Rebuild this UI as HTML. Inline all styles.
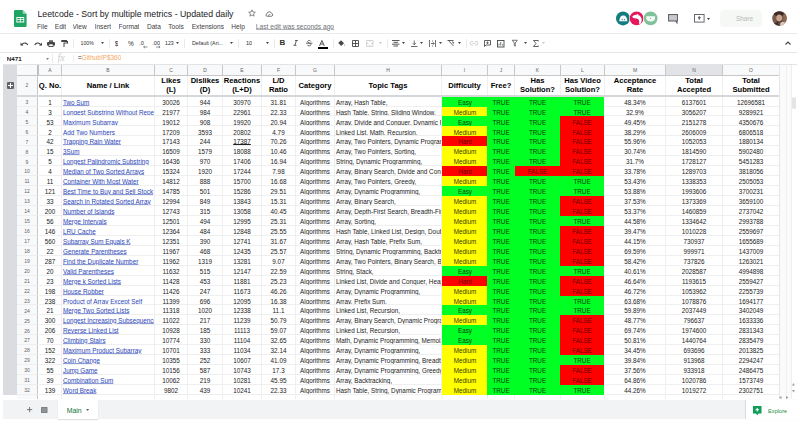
<!DOCTYPE html>
<html><head><meta charset="utf-8"><style>
html,body{margin:0;padding:0}
body{width:800px;height:424px;overflow:hidden;position:relative;background:#fff;font-family:"Liberation Sans",sans-serif}
.a{position:absolute;box-sizing:content-box;overflow:hidden;white-space:nowrap}
svg.a{overflow:visible}
.ch{font-size:5px;color:#5f6368;text-align:center}
.rh{font-size:5px;color:#5f6368;text-align:center}
.hd{font-size:7.6px;font-weight:bold;color:#000;text-align:center;display:flex;align-items:center;justify-content:center}
.c{font-size:6.33px;color:#222}
.lk{color:#2b45b8}
.lk u{text-decoration-color:rgba(43,69,184,.55)}
u{text-underline-offset:0.2px}
</style></head><body>
<svg class="a" style="left:14px;top:10px" width="13" height="17" viewBox="0 0 13 17">
<path d="M1.2 0 H8.6 L12.6 4 V15.8 Q12.6 17 11.4 17 H1.2 Q0 17 0 15.8 V1.2 Q0 0 1.2 0Z" fill="#20a464"/>
<path d="M8.6 0 L12.6 4 H9.6 Q8.6 4 8.6 3Z" fill="#8fd3b0"/>
<path d="M2.4 7 H10.2 V12.4 H2.4Z M3.3 7.9 V9.3 H5.9 V7.9Z M6.7 7.9 V9.3 H9.3 V7.9Z M3.3 10.1 V11.5 H5.9 V10.1Z M6.7 10.1 V11.5 H9.3 V10.1Z" fill="#fff" fill-rule="evenodd"/>
</svg>
<div class="a" style="left:37.5px;top:8.5px;font-size:8.75px;line-height:11px;color:#202124">Leetcode - Sort by multiple metrics - Updated daily</div>
<svg class="a" style="left:247.8px;top:9.3px" width="8" height="8" viewBox="0 0 24 24"><path d="M12 2.5l2.9 6.6 7.1.6-5.4 4.7 1.6 7-6.2-3.7-6.2 3.7 1.6-7L2 9.7l7.1-.6z" fill="none" stroke="#5f6368" stroke-width="2.2"/></svg>
<svg class="a" style="left:264.8px;top:10.5px" width="8.2" height="5.8" viewBox="0 0 16 11.3"><path d="M4 10.3H12.3A2.9 2.9 0 0 0 12.9 4.6 4.9 4.9 0 0 0 3.6 5.3 2.6 2.6 0 0 0 4 10.3Z" fill="none" stroke="#5f6368" stroke-width="1.7"/><path d="M5.6 7.2 7.3 8.8 10.4 5.7" fill="none" stroke="#5f6368" stroke-width="1.5"/></svg>
<div class="a" style="left:37px;top:22.7px;font-size:6.6px;line-height:8px;color:#3c4043">File</div>
<div class="a" style="left:54.75px;top:22.7px;font-size:6.6px;line-height:8px;color:#3c4043">Edit</div>
<div class="a" style="left:72.6px;top:22.7px;font-size:6.6px;line-height:8px;color:#3c4043">View</div>
<div class="a" style="left:94.6px;top:22.7px;font-size:6.6px;line-height:8px;color:#3c4043">Insert</div>
<div class="a" style="left:118.5px;top:22.7px;font-size:6.6px;line-height:8px;color:#3c4043">Format</div>
<div class="a" style="left:146.9px;top:22.7px;font-size:6.6px;line-height:8px;color:#3c4043">Data</div>
<div class="a" style="left:168.3px;top:22.7px;font-size:6.6px;line-height:8px;color:#3c4043">Tools</div>
<div class="a" style="left:191.7px;top:22.7px;font-size:6.6px;line-height:8px;color:#3c4043">Extensions</div>
<div class="a" style="left:231.3px;top:22.7px;font-size:6.6px;line-height:8px;color:#3c4043">Help</div>
<div class="a" style="left:255.8px;top:22.7px;font-size:6.65px;line-height:8px;color:#6d7175;text-decoration:underline;text-decoration-color:#b0b3b6;text-underline-offset:0.3px">Last edit was seconds ago</div>
<svg class="a" style="left:614px;top:10px" width="46" height="17" viewBox="0 0 46 17">
<circle cx="9" cy="8.4" r="7" fill="#147c80"/>
<path d="M5.3 11.3 Q5.5 5.6 9.3 5.6 Q13 5.6 13.4 11.3Z" fill="#f2fbf9"/>
<circle cx="8.2" cy="9.6" r="0.55" fill="#355"/><circle cx="10.6" cy="9.6" r="0.55" fill="#355"/>
<circle cx="22.6" cy="8.4" r="7.4" fill="#fff"/>
<circle cx="22.6" cy="8.4" r="6.9" fill="#e6165c"/>
<path d="M18.2 6.7 Q19.2 4.8 22.4 4.7 L23.8 3.8 L24.3 5 Q27.4 6.1 27.7 9.4 Q27.9 11.3 26.9 12.5 L28.3 13.9 L25.9 13.6 L24.7 14.7 L25.2 12.4 Q25.6 10.2 24 9.1 Q22.3 8.1 20.1 8.2 Q18.7 8.1 18.2 6.7Z" fill="#fff"/>
<circle cx="36.6" cy="8.4" r="7.4" fill="#fff"/>
<circle cx="36.6" cy="8.4" r="6.9" fill="#7fc29a"/>
<path d="M32.3 6.2 H41 V8.2 Q41 11.2 36.7 11.4 Q32.3 11.2 32.3 8.2Z" fill="#f4fbf6"/>
<circle cx="36.6" cy="8.5" r="0.55" fill="#5a8"/>
</svg>
<svg class="a" style="left:668px;top:14px" width="10" height="9" viewBox="0 0 20 18"><rect x="3" y="3" width="14" height="9" fill="#c9c6cc"/><path d="M1.3 1.3h17.4v12.4h-.9v3.5l-2.6-3.5H1.3z" fill="none" stroke="#5f6368" stroke-width="2.4"/></svg>
<svg class="a" style="left:693.8px;top:14.2px" width="10.6" height="8.6" viewBox="0 0 21 17"><rect x="1" y="1" width="19" height="15" fill="none" stroke="#5f6368" stroke-width="1.9"/><path d="M10.5 5.5v6M8 8l2.5-2.5L13 8" fill="none" stroke="#5f6368" stroke-width="2"/></svg>
<svg class="a" style="left:707.3px;top:17.8px" width="3" height="1.9" viewBox="0 0 4 2.5"><path d="M0 0h4L2 2.5z" fill="#3c4043"/></svg>
<div class="a" style="left:720px;top:10px;width:42px;height:17px;border-radius:4px;background:#f5f8f5;color:#b8bab8;font-size:6.4px;line-height:17px;text-align:left;padding-left:16px;box-sizing:border-box">Share</div>
<svg class="a" style="left:771.5px;top:11px" width="15" height="15" viewBox="0 0 15 15"><defs><clipPath id="pc"><circle cx="7.5" cy="7.5" r="7.3"/></clipPath><filter id="bl"><feGaussianBlur stdDeviation="0.5"/></filter></defs><g clip-path="url(#pc)"><rect width="15" height="15" fill="#7a5a4a"/><g filter="url(#bl)"><ellipse cx="7" cy="2.6" rx="5" ry="2.6" fill="#3d2b25"/><ellipse cx="7.2" cy="7.2" rx="2.9" ry="3.6" fill="#c9a48e"/><path d="M4.5 9 Q7 12.5 9.8 9 L10 11.5 Q7 13 4.6 11.5Z" fill="#4b3630"/><path d="M8 15 L8.5 11.5 Q11 10 13 11.5 L13 15Z" fill="#d9c6bd"/><path d="M1 15 Q2 11 5.5 11.5 L8 15Z" fill="#3c2f33"/><rect x="11.5" y="3" width="3" height="8" fill="#8d6a50"/></g></g></svg>
<div class="a" style="left:0;top:33px;width:797px;height:1px;background:#e8eaed"></div>
<div class="a" style="left:0;top:52px;width:797px;height:1px;background:#e3e5e8"></div>
<svg class="a" style="left:784.5px;top:41px" width="6" height="4" viewBox="0 0 12 8"><path d="M1 7l5-5 5 5" fill="none" stroke="#444" stroke-width="2.2"/></svg>
<svg class="a" style="left:20px;top:40.5px" width="8.5" height="5" viewBox="0 0 17 10"><path d="M3 8.5 Q6 3.5 11 4.2 Q14 4.8 15.5 8" fill="none" stroke="#444746" stroke-width="2.2"/><path d="M1 3v6h6z" fill="#444746"/></svg>
<svg class="a" style="left:33.5px;top:40.5px" width="8.5" height="5" viewBox="0 0 17 10"><path d="M14 8.5 Q11 3.5 6 4.2 Q3 4.8 1.5 8" fill="none" stroke="#444746" stroke-width="2.2"/><path d="M16 3v6h-6z" fill="#444746"/></svg>
<svg class="a" style="left:47px;top:39.8px" width="8" height="7.2" viewBox="0 0 16 14"><rect x="4" y="0.5" width="8" height="3" fill="#444746"/><path d="M2 4h12a2 2 0 0 1 2 2v5h-3v3H3v-3H0V6a2 2 0 0 1 2-2z" fill="#444746"/><rect x="4.5" y="8.5" width="7" height="3.5" fill="#fff"/></svg>
<svg class="a" style="left:61px;top:40px" width="7.5" height="7.2" viewBox="0 0 15 14"><path d="M1 0h11v2h2v5H7v7H5V5h7V4H1z" fill="#444746"/><rect x="1" y="0" width="11" height="3.5" fill="#444746"/></svg>
<div class="a" style="left:72.5px;top:39px;width:1px;height:8.5px;background:#e9eaec"></div>
<div class="a" style="left:80.6px;top:39.5px;font-size:5.15px;line-height:7px;color:#2d2f31;">100%</div>
<svg class="a" style="left:100.5px;top:42.4px" width="3" height="1.9" viewBox="0 0 4 2.5"><path d="M0 0h4L2 2.5z" fill="#444746"/></svg>
<div class="a" style="left:108.5px;top:39px;width:1px;height:8.5px;background:#e9eaec"></div>
<div class="a" style="left:114.8px;top:39.5px;font-size:6.6px;line-height:7px;color:#2d2f31;top:39.6px">$</div>
<div class="a" style="left:128px;top:39.5px;font-size:6.4px;line-height:7px;color:#2d2f31;top:40.3px">%</div>
<div class="a" style="left:139.2px;top:39.5px;font-size:5.6px;line-height:7px;color:#2d2f31;">.0</div>
<svg class="a" style="left:142.5px;top:45.5px" width="4.5" height="2" viewBox="0 0 9 4"><path d="M9 2H2M3.5 0 1 2l2.5 2" fill="none" stroke="#444746" stroke-width="1.2"/></svg>
<div class="a" style="left:152.3px;top:39.5px;font-size:5.6px;line-height:7px;color:#2d2f31;">.00</div>
<svg class="a" style="left:156px;top:45.5px" width="4.5" height="2" viewBox="0 0 9 4"><path d="M0 2h7M5.5 0 8 2 5.5 4" fill="none" stroke="#444746" stroke-width="1.2"/></svg>
<div class="a" style="left:165px;top:39.5px;font-size:5.2px;line-height:7px;color:#2d2f31;">123</div>
<svg class="a" style="left:176.0px;top:42.4px" width="3" height="1.9" viewBox="0 0 4 2.5"><path d="M0 0h4L2 2.5z" fill="#444746"/></svg>
<div class="a" style="left:183.75px;top:39px;width:1px;height:8.5px;background:#e9eaec"></div>
<div class="a" style="left:191.9px;top:39.5px;font-size:5.35px;line-height:7px;color:#2d2f31;">Default (Ari...</div>
<svg class="a" style="left:230.0px;top:42.4px" width="3" height="1.9" viewBox="0 0 4 2.5"><path d="M0 0h4L2 2.5z" fill="#444746"/></svg>
<div class="a" style="left:238px;top:39px;width:1px;height:8.5px;background:#e9eaec"></div>
<div class="a" style="left:246px;top:39.5px;font-size:5.6px;line-height:7px;color:#2d2f31;">10</div>
<svg class="a" style="left:266.0px;top:42.4px" width="3" height="1.9" viewBox="0 0 4 2.5"><path d="M0 0h4L2 2.5z" fill="#444746"/></svg>
<div class="a" style="left:273.75px;top:39px;width:1px;height:8.5px;background:#e9eaec"></div>
<div class="a" style="left:279.4px;top:39.5px;font-size:8px;line-height:7px;color:#2d2f31;font-weight:bold;top:38.6px;line-height:8px">B</div>
<svg class="a" style="left:292.8px;top:40.2px" width="5.4" height="5.8" viewBox="0 0 11 12"><path d="M4 1h6M1 11h6M7 1 4 11" fill="none" stroke="#444746" stroke-width="1.8"/></svg>
<svg class="a" style="left:305.6px;top:39.8px" width="6.4" height="6.4" viewBox="0 0 13 13"><path d="M9.8 3.2C9.3 1.8 8.1 1 6.4 1 4.3 1 3 2 3 3.5c0 3.2 7 2.2 7 5.6 0 1.7-1.5 2.9-3.7 2.9-1.9 0-3.3-.9-3.8-2.4M0 6.5h13" fill="none" stroke="#444746" stroke-width="1.6"/></svg>
<svg class="a" style="left:319.3px;top:39.8px" width="5.8" height="6.2" viewBox="0 0 12 13"><path d="M1 12.5 6 1l5 11.5M3 8.5h6" fill="none" stroke="#444746" stroke-width="1.9"/></svg>
<div class="a" style="left:317.5px;top:47.4px;width:10px;height:1.4px;background:#000"></div>
<div class="a" style="left:332.5px;top:39px;width:1px;height:8.5px;background:#e9eaec"></div>
<svg class="a" style="left:337.5px;top:39.6px" width="7.5" height="6.5" viewBox="0 0 15 13"><path d="M6 0.5 12 6.5 6.5 12 0.5 6z" fill="#444746"/><path d="M13 8.5q1.5 2.2 0 3q-1.5-.8 0-3z" fill="#444746"/></svg>
<svg class="a" style="left:352.2px;top:39.6px" width="7" height="7" viewBox="0 0 14 14"><path d="M1 1h12v12H1zM7 1v12M1 7h12" fill="none" stroke="#444746" stroke-width="1.8"/></svg>
<svg class="a" style="left:366.2px;top:39.8px" width="7.5" height="6.8" viewBox="0 0 15 14"><path d="M1 1h13v12H1zM7.5 1v3M7.5 10v3M1 7h4M10 7h4" fill="none" stroke="#c4c7c5" stroke-width="1.6"/></svg>
<svg class="a" style="left:378.5px;top:42.4px" width="3" height="1.9" viewBox="0 0 4 2.5"><path d="M0 0h4L2 2.5z" fill="#c4c7c5"/></svg>
<div class="a" style="left:386.5px;top:39px;width:1px;height:8.5px;background:#e9eaec"></div>
<svg class="a" style="left:391.9px;top:40px" width="7.5" height="6.5" viewBox="0 0 15 13"><path d="M0 1h15M3 4.7h9M0 8.4h15M3 12h9" stroke="#444746" stroke-width="1.8"/></svg>
<svg class="a" style="left:401.5px;top:42.4px" width="3" height="1.9" viewBox="0 0 4 2.5"><path d="M0 0h4L2 2.5z" fill="#444746"/></svg>
<svg class="a" style="left:410.6px;top:39.8px" width="6.5" height="7" viewBox="0 0 13 14"><path d="M0 13h13M6.5 1v8M3.5 6.5l3 3 3-3" fill="none" stroke="#444746" stroke-width="1.6"/></svg>
<svg class="a" style="left:420.4px;top:42.4px" width="3" height="1.9" viewBox="0 0 4 2.5"><path d="M0 0h4L2 2.5z" fill="#444746"/></svg>
<svg class="a" style="left:428.7px;top:39.8px" width="7" height="7" viewBox="0 0 14 14"><path d="M1 0v14M13 0v14M4 7h6M8 4.5 10.5 7 8 9.5M7 1v2M7 11v2" fill="none" stroke="#444746" stroke-width="1.5"/></svg>
<svg class="a" style="left:438.75px;top:42.4px" width="3" height="1.9" viewBox="0 0 4 2.5"><path d="M0 0h4L2 2.5z" fill="#444746"/></svg>
<svg class="a" style="left:446.9px;top:40px" width="8" height="6.5" viewBox="0 0 16 13"><path d="M1 1h12M3 1l10 11M10 4l3 .5-.5 3" fill="none" stroke="#444746" stroke-width="1.7"/></svg>
<svg class="a" style="left:457.9px;top:42.4px" width="3" height="1.9" viewBox="0 0 4 2.5"><path d="M0 0h4L2 2.5z" fill="#444746"/></svg>
<div class="a" style="left:465.6px;top:39px;width:1px;height:8.5px;background:#e9eaec"></div>
<svg class="a" style="left:470px;top:41px" width="8" height="4.5" viewBox="0 0 16 9"><path d="M6 1H4a3.5 3.5 0 0 0 0 7h2M10 1h2a3.5 3.5 0 0 1 0 7h-2M5 4.5h6" fill="none" stroke="#c4c7c5" stroke-width="1.6"/></svg>
<svg class="a" style="left:484px;top:39.8px" width="7" height="7" viewBox="0 0 14 14"><path d="M1 1h12v9H4l-3 3z" fill="none" stroke="#444746" stroke-width="1.7"/><path d="M7 3v5M4.5 5.5h5" stroke="#444746" stroke-width="1.5"/></svg>
<svg class="a" style="left:497px;top:39.6px" width="7.5" height="7.5" viewBox="0 0 15 15"><rect x="1" y="1" width="13" height="13" fill="none" stroke="#444746" stroke-width="1.8"/><path d="M4 11V7M7.5 11V4M11 11V8.5" stroke="#444746" stroke-width="1.5"/></svg>
<svg class="a" style="left:511.9px;top:40px" width="5.5" height="6.5" viewBox="0 0 11 13"><path d="M0.5 0.5h10L6.5 6v6.5L4.5 11V6z" fill="none" stroke="#444746" stroke-width="1.5"/></svg>
<svg class="a" style="left:523.5px;top:42.4px" width="3" height="1.9" viewBox="0 0 4 2.5"><path d="M0 0h4L2 2.5z" fill="#444746"/></svg>
<svg class="a" style="left:533px;top:40px" width="5.5" height="7" viewBox="0 0 11 14"><path d="M10.5 3V1H1l5 6-5 6h9.5v-2" fill="none" stroke="#444746" stroke-width="1.7"/></svg>
<svg class="a" style="left:542.25px;top:42.4px" width="3" height="1.9" viewBox="0 0 4 2.5"><path d="M0 0h4L2 2.5z" fill="#c4c7c5"/></svg>
<div class="a" style="left:6.8px;top:54.5px;font-size:6.2px;line-height:7px;color:#000;-webkit-text-stroke:0.15px #000">N471</div>
<svg class="a" style="left:45.5px;top:58.2px" width="3" height="1.9" viewBox="0 0 4 2.5"><path d="M0 0h4L2 2.5z" fill="#80868b"/></svg>
<div class="a" style="left:51.5px;top:53.5px;width:1px;height:9px;background:#e9eaec"></div>
<div class="a" style="left:57.5px;top:52.5px;font-size:10px;line-height:10px;color:#c8cacd;font-family:Liberation Serif;font-style:italic">fx</div>
<div class="a" style="left:73px;top:54.5px;width:1px;height:7px;background:#eeeff0"></div>
<div class="a" style="left:77.8px;top:54.3px;font-size:6.5px;line-height:7px;color:#f5a65e"><span style="color:#333">=</span>Github!P$360</div>
<div class="a" style="left:3px;top:64px;width:14px;height:331px;background:#dadce0"></div>
<div class="a" style="left:17px;top:64px;width:762px;height:11px;background:#f8f9fa;border-bottom:1px solid #c7c7c7"></div>
<div class="a" style="left:17px;top:76px;width:21px;height:323px;background:#f8f9fa"></div>
<div class="a ch" style="left:39px;top:64px;width:22px;height:11px;background:#f8f9fa;border-right:1px solid #c7c7c7;line-height:13px">A</div>
<div class="a ch" style="left:62px;top:64px;width:92px;height:11px;background:#f8f9fa;border-right:1px solid #c7c7c7;line-height:13px">B</div>
<div class="a ch" style="left:155px;top:64px;width:32px;height:11px;background:#f8f9fa;border-right:1px solid #c7c7c7;line-height:13px">C</div>
<div class="a ch" style="left:188px;top:64px;width:34px;height:11px;background:#f8f9fa;border-right:1px solid #c7c7c7;line-height:13px">D</div>
<div class="a ch" style="left:223px;top:64px;width:38px;height:11px;background:#f8f9fa;border-right:1px solid #c7c7c7;line-height:13px">E</div>
<div class="a ch" style="left:262px;top:64px;width:33px;height:11px;background:#f8f9fa;border-right:1px solid #c7c7c7;line-height:13px">F</div>
<div class="a ch" style="left:296px;top:64px;width:38px;height:11px;background:#f8f9fa;border-right:1px solid #c7c7c7;line-height:13px">G</div>
<div class="a ch" style="left:335px;top:64px;width:106px;height:11px;background:#f8f9fa;border-right:1px solid #c7c7c7;line-height:13px">H</div>
<div class="a ch" style="left:442px;top:64px;width:45px;height:11px;background:#f8f9fa;border-right:1px solid #c7c7c7;line-height:13px">I</div>
<div class="a ch" style="left:488px;top:64px;width:26px;height:11px;background:#f8f9fa;border-right:1px solid #c7c7c7;line-height:13px">J</div>
<div class="a ch" style="left:515px;top:64px;width:45px;height:11px;background:#f8f9fa;border-right:1px solid #c7c7c7;line-height:13px">K</div>
<div class="a ch" style="left:561px;top:64px;width:43px;height:11px;background:#f8f9fa;border-right:1px solid #c7c7c7;line-height:13px">L</div>
<div class="a ch" style="left:605px;top:64px;width:60px;height:11px;background:#f8f9fa;border-right:1px solid #c7c7c7;line-height:13px">M</div>
<div class="a ch" style="left:666px;top:64px;width:56px;height:11px;background:#e1e3e6;border-right:1px solid #c7c7c7;line-height:13px">N</div>
<div class="a ch" style="left:723px;top:64px;width:56px;height:11px;background:#f8f9fa;border-right:1px solid #c7c7c7;line-height:13px">O</div>
<div class="a" style="left:17px;top:64px;width:20px;height:11px;border-right:1px solid #c7c7c7"></div>
<div class="a" style="left:37px;top:64px;width:2px;height:11px;background:#bdc1c6"></div>
<div class="a rh" style="left:17px;top:76px;width:20px;height:19px;border-right:1px solid #c7c7c7;line-height:19px">2</div>
<div class="a hd" style="left:39px;top:76px;width:22px;height:19px;border-right:1px solid #efefef;"><span style="display:block;margin-top:0px;line-height:19px">Q. No.</span></div>
<div class="a hd" style="left:62px;top:76px;width:92px;height:19px;border-right:1px solid #efefef;"><span style="display:block;margin-top:0px;line-height:19px">Name / Link</span></div>
<div class="a hd" style="left:155px;top:76px;width:32px;height:19px;border-right:1px solid #efefef;"><span style="display:block;margin-top:-1.6px;line-height:9px">Likes<br>(L)</span></div>
<div class="a hd" style="left:188px;top:76px;width:34px;height:19px;border-right:1px solid #efefef;"><span style="display:block;margin-top:-1.6px;line-height:9px">Dislikes<br>(D)</span></div>
<div class="a hd" style="left:223px;top:76px;width:38px;height:19px;border-right:1px solid #efefef;"><span style="display:block;margin-top:-1.6px;line-height:9px">Reactions<br>(L+D)</span></div>
<div class="a hd" style="left:262px;top:76px;width:33px;height:19px;border-right:1px solid #efefef;"><span style="display:block;margin-top:-1.6px;line-height:9px">L/D<br>Ratio</span></div>
<div class="a hd" style="left:296px;top:76px;width:38px;height:19px;border-right:1px solid #efefef;"><span style="display:block;margin-top:0px;line-height:19px">Category</span></div>
<div class="a hd" style="left:335px;top:76px;width:106px;height:19px;border-right:1px solid #efefef;"><span style="display:block;margin-top:0px;line-height:19px">Topic Tags</span></div>
<div class="a hd" style="left:442px;top:76px;width:45px;height:19px;border-right:1px solid #efefef;"><span style="display:block;margin-top:0px;line-height:19px">Difficulty</span></div>
<div class="a hd" style="left:488px;top:76px;width:26px;height:19px;border-right:1px solid #efefef;"><span style="display:block;margin-top:0px;line-height:19px">Free?</span></div>
<div class="a hd" style="left:515px;top:76px;width:45px;height:19px;border-right:1px solid #efefef;"><span style="display:block;margin-top:-1.6px;line-height:9px">Has<br>Solution?</span></div>
<div class="a hd" style="left:561px;top:76px;width:43px;height:19px;border-right:1px solid #efefef;"><span style="display:block;margin-top:-1.6px;line-height:9px">Has Video<br>Solution?</span></div>
<div class="a hd" style="left:605px;top:76px;width:60px;height:19px;border-right:1px solid #efefef;"><span style="display:block;margin-top:-1.6px;line-height:9px">Acceptance<br>Rate</span></div>
<div class="a hd" style="left:666px;top:76px;width:56px;height:19px;border-right:1px solid #efefef;"><span style="display:block;margin-top:-1.6px;line-height:9px">Total<br>Accepted</span></div>
<div class="a hd" style="left:723px;top:76px;width:56px;height:19px;border-right:1px solid #efefef;"><span style="display:block;margin-top:-1.6px;line-height:9px">Total<br>Submitted</span></div>
<div class="a" style="left:17px;top:95px;width:762px;height:2px;background:#d5d7da"></div>
<div class="a" style="left:7px;top:82px;width:7px;height:7px;background:#5f6368;border-radius:1px"></div>
<div class="a" style="left:8px;top:85px;width:5px;height:1px;background:#fff"></div>
<div class="a" style="left:10px;top:83px;width:1px;height:5px;background:#fff"></div>
<div class="a" style="left:17px;top:395px;width:20px;height:4px;border-right:1px solid #c7c7c7"></div>
<div class="a" style="left:39px;top:395px;width:22px;height:4px;border-right:1px solid #efefef"></div>
<div class="a" style="left:62px;top:395px;width:92px;height:4px;border-right:1px solid #efefef"></div>
<div class="a" style="left:155px;top:395px;width:32px;height:4px;border-right:1px solid #efefef"></div>
<div class="a" style="left:188px;top:395px;width:34px;height:4px;border-right:1px solid #efefef"></div>
<div class="a" style="left:223px;top:395px;width:38px;height:4px;border-right:1px solid #efefef"></div>
<div class="a" style="left:262px;top:395px;width:33px;height:4px;border-right:1px solid #efefef"></div>
<div class="a" style="left:296px;top:395px;width:38px;height:4px;border-right:1px solid #efefef"></div>
<div class="a" style="left:335px;top:395px;width:106px;height:4px;border-right:1px solid #efefef"></div>
<div class="a" style="left:442px;top:395px;width:45px;height:4px;border-right:1px solid #efefef"></div>
<div class="a" style="left:488px;top:395px;width:26px;height:4px;border-right:1px solid #efefef"></div>
<div class="a" style="left:515px;top:395px;width:45px;height:4px;border-right:1px solid #efefef"></div>
<div class="a" style="left:561px;top:395px;width:43px;height:4px;border-right:1px solid #efefef"></div>
<div class="a" style="left:605px;top:395px;width:60px;height:4px;border-right:1px solid #efefef"></div>
<div class="a" style="left:666px;top:395px;width:56px;height:4px;border-right:1px solid #efefef"></div>
<div class="a" style="left:723px;top:395px;width:56px;height:4px;border-right:1px solid #efefef"></div>
<div class="a rh" style="left:17px;top:97px;width:20px;height:9px;border-right:1px solid #c7c7c7;border-bottom:1px solid #efefef;line-height:10.8px">3</div>
<div class="a c" style="top:97px;height:9px;line-height:11.4px;text-align:center;left:39px;width:22px;border-right:1px solid #efefef;border-bottom:1px solid #efefef;">1</div>
<div class="a c lk" style="top:97px;height:9px;line-height:11.4px;text-align:left;left:62px;width:92px;border-right:1px solid #efefef;border-bottom:1px solid #efefef;padding-left:1px;width:91px;"><u>Two Sum</u></div>
<div class="a c" style="top:97px;height:9px;line-height:11.4px;text-align:center;left:155px;width:32px;border-right:1px solid #efefef;border-bottom:1px solid #efefef;">30026</div>
<div class="a c" style="top:97px;height:9px;line-height:11.4px;text-align:center;left:188px;width:34px;border-right:1px solid #efefef;border-bottom:1px solid #efefef;">944</div>
<div class="a c" style="top:97px;height:9px;line-height:11.4px;text-align:center;left:223px;width:38px;border-right:1px solid #efefef;border-bottom:1px solid #efefef;">30970</div>
<div class="a c" style="top:97px;height:9px;line-height:11.4px;text-align:center;left:262px;width:33px;border-right:1px solid #efefef;border-bottom:1px solid #efefef;">31.81</div>
<div class="a c" style="top:97px;height:9px;line-height:11.4px;text-align:center;left:296px;width:38px;border-right:1px solid #efefef;border-bottom:1px solid #efefef;">Algorithms</div>
<div class="a c" style="top:97px;height:9px;line-height:11.4px;text-align:left;left:335px;width:106px;border-right:1px solid #efefef;border-bottom:1px solid #efefef;padding-left:1px;width:105px;">Array, Hash Table,</div>
<div class="a c" style="top:97px;height:9px;line-height:11.4px;text-align:center;left:442px;width:46px;height:10px;background:#00ff22;color:#0b3d0b;">Easy</div>
<div class="a c" style="top:97px;height:9px;line-height:11.4px;text-align:center;left:487px;width:28px;height:10px;background:#00ff22;color:#0a3d0a;">TRUE</div>
<div class="a c" style="top:97px;height:9px;line-height:11.4px;text-align:center;left:515px;width:45px;height:10px;background:#00ff22;color:#0a3d0a;">TRUE</div>
<div class="a c" style="top:97px;height:9px;line-height:11.4px;text-align:center;left:560px;width:44px;height:10px;background:#00ff22;color:#0a3d0a;">TRUE</div>
<div class="a c" style="top:97px;height:9px;line-height:11.4px;text-align:center;left:605px;width:60px;border-right:1px solid #efefef;border-bottom:1px solid #efefef;">48.34%</div>
<div class="a c" style="top:97px;height:9px;line-height:11.4px;text-align:center;left:666px;width:56px;border-right:1px solid #efefef;border-bottom:1px solid #efefef;">6137601</div>
<div class="a c" style="top:97px;height:9px;line-height:11.4px;text-align:center;left:723px;width:56px;border-right:1px solid #efefef;border-bottom:1px solid #efefef;">12696581</div>
<div class="a rh" style="left:17px;top:107px;width:20px;height:8px;border-right:1px solid #c7c7c7;border-bottom:1px solid #efefef;line-height:10.68px">4</div>
<div class="a c" style="top:107px;height:8px;line-height:11.28px;text-align:center;left:39px;width:22px;border-right:1px solid #efefef;border-bottom:1px solid #efefef;">3</div>
<div class="a c lk" style="top:107px;height:8px;line-height:11.28px;text-align:left;left:62px;width:92px;border-right:1px solid #efefef;border-bottom:1px solid #efefef;padding-left:1px;width:91px;"><u>Longest Substring Without Repeating Characters</u></div>
<div class="a c" style="top:107px;height:8px;line-height:11.28px;text-align:center;left:155px;width:32px;border-right:1px solid #efefef;border-bottom:1px solid #efefef;">21977</div>
<div class="a c" style="top:107px;height:8px;line-height:11.28px;text-align:center;left:188px;width:34px;border-right:1px solid #efefef;border-bottom:1px solid #efefef;">984</div>
<div class="a c" style="top:107px;height:8px;line-height:11.28px;text-align:center;left:223px;width:38px;border-right:1px solid #efefef;border-bottom:1px solid #efefef;">22961</div>
<div class="a c" style="top:107px;height:8px;line-height:11.28px;text-align:center;left:262px;width:33px;border-right:1px solid #efefef;border-bottom:1px solid #efefef;">22.33</div>
<div class="a c" style="top:107px;height:8px;line-height:11.28px;text-align:center;left:296px;width:38px;border-right:1px solid #efefef;border-bottom:1px solid #efefef;">Algorithms</div>
<div class="a c" style="top:107px;height:8px;line-height:11.28px;text-align:left;left:335px;width:106px;border-right:1px solid #efefef;border-bottom:1px solid #efefef;padding-left:1px;width:105px;">Hash Table, String, Sliding Window,</div>
<div class="a c" style="top:107px;height:8px;line-height:11.28px;text-align:center;left:442px;width:46px;height:9px;background:#ffff00;color:#3a3a00;">Medium</div>
<div class="a c" style="top:107px;height:8px;line-height:11.28px;text-align:center;left:487px;width:28px;height:9px;background:#00ff22;color:#0a3d0a;">TRUE</div>
<div class="a c" style="top:107px;height:8px;line-height:11.28px;text-align:center;left:515px;width:45px;height:9px;background:#00ff22;color:#0a3d0a;">TRUE</div>
<div class="a c" style="top:107px;height:8px;line-height:11.28px;text-align:center;left:560px;width:44px;height:9px;background:#00ff22;color:#0a3d0a;">TRUE</div>
<div class="a c" style="top:107px;height:8px;line-height:11.28px;text-align:center;left:605px;width:60px;border-right:1px solid #efefef;border-bottom:1px solid #efefef;">32.9%</div>
<div class="a c" style="top:107px;height:8px;line-height:11.28px;text-align:center;left:666px;width:56px;border-right:1px solid #efefef;border-bottom:1px solid #efefef;">3056207</div>
<div class="a c" style="top:107px;height:8px;line-height:11.28px;text-align:center;left:723px;width:56px;border-right:1px solid #efefef;border-bottom:1px solid #efefef;">9289921</div>
<div class="a rh" style="left:17px;top:116px;width:20px;height:9px;border-right:1px solid #c7c7c7;border-bottom:1px solid #efefef;line-height:12.56px">5</div>
<div class="a c" style="top:116px;height:9px;line-height:13.16px;text-align:center;left:39px;width:22px;border-right:1px solid #efefef;border-bottom:1px solid #efefef;">53</div>
<div class="a c lk" style="top:116px;height:9px;line-height:13.16px;text-align:left;left:62px;width:92px;border-right:1px solid #efefef;border-bottom:1px solid #efefef;padding-left:1px;width:91px;"><u>Maximum Subarray</u></div>
<div class="a c" style="top:116px;height:9px;line-height:13.16px;text-align:center;left:155px;width:32px;border-right:1px solid #efefef;border-bottom:1px solid #efefef;">19012</div>
<div class="a c" style="top:116px;height:9px;line-height:13.16px;text-align:center;left:188px;width:34px;border-right:1px solid #efefef;border-bottom:1px solid #efefef;">908</div>
<div class="a c" style="top:116px;height:9px;line-height:13.16px;text-align:center;left:223px;width:38px;border-right:1px solid #efefef;border-bottom:1px solid #efefef;">19920</div>
<div class="a c" style="top:116px;height:9px;line-height:13.16px;text-align:center;left:262px;width:33px;border-right:1px solid #efefef;border-bottom:1px solid #efefef;">20.94</div>
<div class="a c" style="top:116px;height:9px;line-height:13.16px;text-align:center;left:296px;width:38px;border-right:1px solid #efefef;border-bottom:1px solid #efefef;">Algorithms</div>
<div class="a c" style="top:116px;height:9px;line-height:13.16px;text-align:left;left:335px;width:106px;border-right:1px solid #efefef;border-bottom:1px solid #efefef;padding-left:1px;width:105px;">Array, Divide and Conquer, Dynamic Programming,</div>
<div class="a c" style="top:116px;height:9px;line-height:13.16px;text-align:center;left:442px;width:46px;height:10px;background:#00ff22;color:#0b3d0b;">Easy</div>
<div class="a c" style="top:116px;height:9px;line-height:13.16px;text-align:center;left:487px;width:28px;height:10px;background:#00ff22;color:#0a3d0a;">TRUE</div>
<div class="a c" style="top:116px;height:9px;line-height:13.16px;text-align:center;left:515px;width:45px;height:10px;background:#00ff22;color:#0a3d0a;">TRUE</div>
<div class="a c" style="top:116px;height:9px;line-height:13.16px;text-align:center;left:560px;width:44px;height:10px;background:#ff0000;color:#6a0000;">FALSE</div>
<div class="a c" style="top:116px;height:9px;line-height:13.16px;text-align:center;left:605px;width:60px;border-right:1px solid #efefef;border-bottom:1px solid #efefef;">49.45%</div>
<div class="a c" style="top:116px;height:9px;line-height:13.16px;text-align:center;left:666px;width:56px;border-right:1px solid #efefef;border-bottom:1px solid #efefef;">2151278</div>
<div class="a c" style="top:116px;height:9px;line-height:13.16px;text-align:center;left:723px;width:56px;border-right:1px solid #efefef;border-bottom:1px solid #efefef;">4350676</div>
<div class="a rh" style="left:17px;top:126px;width:20px;height:9px;border-right:1px solid #c7c7c7;border-bottom:1px solid #efefef;line-height:12.44px">6</div>
<div class="a c" style="top:126px;height:9px;line-height:13.04px;text-align:center;left:39px;width:22px;border-right:1px solid #efefef;border-bottom:1px solid #efefef;">2</div>
<div class="a c lk" style="top:126px;height:9px;line-height:13.04px;text-align:left;left:62px;width:92px;border-right:1px solid #efefef;border-bottom:1px solid #efefef;padding-left:1px;width:91px;"><u>Add Two Numbers</u></div>
<div class="a c" style="top:126px;height:9px;line-height:13.04px;text-align:center;left:155px;width:32px;border-right:1px solid #efefef;border-bottom:1px solid #efefef;">17209</div>
<div class="a c" style="top:126px;height:9px;line-height:13.04px;text-align:center;left:188px;width:34px;border-right:1px solid #efefef;border-bottom:1px solid #efefef;">3593</div>
<div class="a c" style="top:126px;height:9px;line-height:13.04px;text-align:center;left:223px;width:38px;border-right:1px solid #efefef;border-bottom:1px solid #efefef;">20802</div>
<div class="a c" style="top:126px;height:9px;line-height:13.04px;text-align:center;left:262px;width:33px;border-right:1px solid #efefef;border-bottom:1px solid #efefef;">4.79</div>
<div class="a c" style="top:126px;height:9px;line-height:13.04px;text-align:center;left:296px;width:38px;border-right:1px solid #efefef;border-bottom:1px solid #efefef;">Algorithms</div>
<div class="a c" style="top:126px;height:9px;line-height:13.04px;text-align:left;left:335px;width:106px;border-right:1px solid #efefef;border-bottom:1px solid #efefef;padding-left:1px;width:105px;">Linked List, Math, Recursion,</div>
<div class="a c" style="top:126px;height:9px;line-height:13.04px;text-align:center;left:442px;width:46px;height:10px;background:#ffff00;color:#3a3a00;">Medium</div>
<div class="a c" style="top:126px;height:9px;line-height:13.04px;text-align:center;left:487px;width:28px;height:10px;background:#00ff22;color:#0a3d0a;">TRUE</div>
<div class="a c" style="top:126px;height:9px;line-height:13.04px;text-align:center;left:515px;width:45px;height:10px;background:#00ff22;color:#0a3d0a;">TRUE</div>
<div class="a c" style="top:126px;height:9px;line-height:13.04px;text-align:center;left:560px;width:44px;height:10px;background:#ff0000;color:#6a0000;">FALSE</div>
<div class="a c" style="top:126px;height:9px;line-height:13.04px;text-align:center;left:605px;width:60px;border-right:1px solid #efefef;border-bottom:1px solid #efefef;">38.29%</div>
<div class="a c" style="top:126px;height:9px;line-height:13.04px;text-align:center;left:666px;width:56px;border-right:1px solid #efefef;border-bottom:1px solid #efefef;">2606009</div>
<div class="a c" style="top:126px;height:9px;line-height:13.04px;text-align:center;left:723px;width:56px;border-right:1px solid #efefef;border-bottom:1px solid #efefef;">6806518</div>
<div class="a rh" style="left:17px;top:136px;width:20px;height:9px;border-right:1px solid #c7c7c7;border-bottom:1px solid #efefef;line-height:12.32px">7</div>
<div class="a c" style="top:136px;height:9px;line-height:12.92px;text-align:center;left:39px;width:22px;border-right:1px solid #efefef;border-bottom:1px solid #efefef;">42</div>
<div class="a c lk" style="top:136px;height:9px;line-height:12.92px;text-align:left;left:62px;width:92px;border-right:1px solid #efefef;border-bottom:1px solid #efefef;padding-left:1px;width:91px;"><u>Trapping Rain Water</u></div>
<div class="a c" style="top:136px;height:9px;line-height:12.92px;text-align:center;left:155px;width:32px;border-right:1px solid #efefef;border-bottom:1px solid #efefef;">17143</div>
<div class="a c" style="top:136px;height:9px;line-height:12.92px;text-align:center;left:188px;width:34px;border-right:1px solid #efefef;border-bottom:1px solid #efefef;">244</div>
<div class="a c" style="top:136px;height:9px;line-height:12.92px;text-align:center;left:223px;width:38px;border-right:1px solid #efefef;border-bottom:1px solid #efefef;"><u>17387</u></div>
<div class="a c" style="top:136px;height:9px;line-height:12.92px;text-align:center;left:262px;width:33px;border-right:1px solid #efefef;border-bottom:1px solid #efefef;">70.26</div>
<div class="a c" style="top:136px;height:9px;line-height:12.92px;text-align:center;left:296px;width:38px;border-right:1px solid #efefef;border-bottom:1px solid #efefef;">Algorithms</div>
<div class="a c" style="top:136px;height:9px;line-height:12.92px;text-align:left;left:335px;width:106px;border-right:1px solid #efefef;border-bottom:1px solid #efefef;padding-left:1px;width:105px;">Array, Two Pointers, Dynamic Programming,</div>
<div class="a c" style="top:136px;height:9px;line-height:12.92px;text-align:center;left:442px;width:46px;height:10px;background:#ff0000;color:#6a0000;">Hard</div>
<div class="a c" style="top:136px;height:9px;line-height:12.92px;text-align:center;left:487px;width:28px;height:10px;background:#00ff22;color:#0a3d0a;">TRUE</div>
<div class="a c" style="top:136px;height:9px;line-height:12.92px;text-align:center;left:515px;width:45px;height:10px;background:#00ff22;color:#0a3d0a;">TRUE</div>
<div class="a c" style="top:136px;height:9px;line-height:12.92px;text-align:center;left:560px;width:44px;height:10px;background:#ff0000;color:#6a0000;">FALSE</div>
<div class="a c" style="top:136px;height:9px;line-height:12.92px;text-align:center;left:605px;width:60px;border-right:1px solid #efefef;border-bottom:1px solid #efefef;">55.96%</div>
<div class="a c" style="top:136px;height:9px;line-height:12.92px;text-align:center;left:666px;width:56px;border-right:1px solid #efefef;border-bottom:1px solid #efefef;">1052053</div>
<div class="a c" style="top:136px;height:9px;line-height:12.92px;text-align:center;left:723px;width:56px;border-right:1px solid #efefef;border-bottom:1px solid #efefef;">1880134</div>
<div class="a rh" style="left:17px;top:146px;width:20px;height:9px;border-right:1px solid #c7c7c7;border-bottom:1px solid #efefef;line-height:12.200000000000001px">8</div>
<div class="a c" style="top:146px;height:9px;line-height:12.8px;text-align:center;left:39px;width:22px;border-right:1px solid #efefef;border-bottom:1px solid #efefef;">15</div>
<div class="a c lk" style="top:146px;height:9px;line-height:12.8px;text-align:left;left:62px;width:92px;border-right:1px solid #efefef;border-bottom:1px solid #efefef;padding-left:1px;width:91px;"><u>3Sum</u></div>
<div class="a c" style="top:146px;height:9px;line-height:12.8px;text-align:center;left:155px;width:32px;border-right:1px solid #efefef;border-bottom:1px solid #efefef;">16509</div>
<div class="a c" style="top:146px;height:9px;line-height:12.8px;text-align:center;left:188px;width:34px;border-right:1px solid #efefef;border-bottom:1px solid #efefef;">1579</div>
<div class="a c" style="top:146px;height:9px;line-height:12.8px;text-align:center;left:223px;width:38px;border-right:1px solid #efefef;border-bottom:1px solid #efefef;">18088</div>
<div class="a c" style="top:146px;height:9px;line-height:12.8px;text-align:center;left:262px;width:33px;border-right:1px solid #efefef;border-bottom:1px solid #efefef;">10.46</div>
<div class="a c" style="top:146px;height:9px;line-height:12.8px;text-align:center;left:296px;width:38px;border-right:1px solid #efefef;border-bottom:1px solid #efefef;">Algorithms</div>
<div class="a c" style="top:146px;height:9px;line-height:12.8px;text-align:left;left:335px;width:106px;border-right:1px solid #efefef;border-bottom:1px solid #efefef;padding-left:1px;width:105px;">Array, Two Pointers, Sorting,</div>
<div class="a c" style="top:146px;height:9px;line-height:12.8px;text-align:center;left:442px;width:46px;height:10px;background:#ffff00;color:#3a3a00;">Medium</div>
<div class="a c" style="top:146px;height:9px;line-height:12.8px;text-align:center;left:487px;width:28px;height:10px;background:#00ff22;color:#0a3d0a;">TRUE</div>
<div class="a c" style="top:146px;height:9px;line-height:12.8px;text-align:center;left:515px;width:45px;height:10px;background:#00ff22;color:#0a3d0a;">TRUE</div>
<div class="a c" style="top:146px;height:9px;line-height:12.8px;text-align:center;left:560px;width:44px;height:10px;background:#ff0000;color:#6a0000;">FALSE</div>
<div class="a c" style="top:146px;height:9px;line-height:12.8px;text-align:center;left:605px;width:60px;border-right:1px solid #efefef;border-bottom:1px solid #efefef;">30.74%</div>
<div class="a c" style="top:146px;height:9px;line-height:12.8px;text-align:center;left:666px;width:56px;border-right:1px solid #efefef;border-bottom:1px solid #efefef;">1814590</div>
<div class="a c" style="top:146px;height:9px;line-height:12.8px;text-align:center;left:723px;width:56px;border-right:1px solid #efefef;border-bottom:1px solid #efefef;">5902480</div>
<div class="a rh" style="left:17px;top:156px;width:20px;height:9px;border-right:1px solid #c7c7c7;border-bottom:1px solid #efefef;line-height:12.08px">9</div>
<div class="a c" style="top:156px;height:9px;line-height:12.68px;text-align:center;left:39px;width:22px;border-right:1px solid #efefef;border-bottom:1px solid #efefef;">5</div>
<div class="a c lk" style="top:156px;height:9px;line-height:12.68px;text-align:left;left:62px;width:92px;border-right:1px solid #efefef;border-bottom:1px solid #efefef;padding-left:1px;width:91px;"><u>Longest Palindromic Substring</u></div>
<div class="a c" style="top:156px;height:9px;line-height:12.68px;text-align:center;left:155px;width:32px;border-right:1px solid #efefef;border-bottom:1px solid #efefef;">16436</div>
<div class="a c" style="top:156px;height:9px;line-height:12.68px;text-align:center;left:188px;width:34px;border-right:1px solid #efefef;border-bottom:1px solid #efefef;">970</div>
<div class="a c" style="top:156px;height:9px;line-height:12.68px;text-align:center;left:223px;width:38px;border-right:1px solid #efefef;border-bottom:1px solid #efefef;">17406</div>
<div class="a c" style="top:156px;height:9px;line-height:12.68px;text-align:center;left:262px;width:33px;border-right:1px solid #efefef;border-bottom:1px solid #efefef;">16.94</div>
<div class="a c" style="top:156px;height:9px;line-height:12.68px;text-align:center;left:296px;width:38px;border-right:1px solid #efefef;border-bottom:1px solid #efefef;">Algorithms</div>
<div class="a c" style="top:156px;height:9px;line-height:12.68px;text-align:left;left:335px;width:106px;border-right:1px solid #efefef;border-bottom:1px solid #efefef;padding-left:1px;width:105px;">String, Dynamic Programming,</div>
<div class="a c" style="top:156px;height:9px;line-height:12.68px;text-align:center;left:442px;width:46px;height:10px;background:#ffff00;color:#3a3a00;">Medium</div>
<div class="a c" style="top:156px;height:9px;line-height:12.68px;text-align:center;left:487px;width:28px;height:10px;background:#00ff22;color:#0a3d0a;">TRUE</div>
<div class="a c" style="top:156px;height:9px;line-height:12.68px;text-align:center;left:515px;width:45px;height:10px;background:#00ff22;color:#0a3d0a;">TRUE</div>
<div class="a c" style="top:156px;height:9px;line-height:12.68px;text-align:center;left:560px;width:44px;height:10px;background:#ff0000;color:#6a0000;">FALSE</div>
<div class="a c" style="top:156px;height:9px;line-height:12.68px;text-align:center;left:605px;width:60px;border-right:1px solid #efefef;border-bottom:1px solid #efefef;">31.7%</div>
<div class="a c" style="top:156px;height:9px;line-height:12.68px;text-align:center;left:666px;width:56px;border-right:1px solid #efefef;border-bottom:1px solid #efefef;">1728127</div>
<div class="a c" style="top:156px;height:9px;line-height:12.68px;text-align:center;left:723px;width:56px;border-right:1px solid #efefef;border-bottom:1px solid #efefef;">5451283</div>
<div class="a rh" style="left:17px;top:166px;width:20px;height:9px;border-right:1px solid #c7c7c7;border-bottom:1px solid #efefef;line-height:11.96px">10</div>
<div class="a c" style="top:166px;height:9px;line-height:12.56px;text-align:center;left:39px;width:22px;border-right:1px solid #efefef;border-bottom:1px solid #efefef;">4</div>
<div class="a c lk" style="top:166px;height:9px;line-height:12.56px;text-align:left;left:62px;width:92px;border-right:1px solid #efefef;border-bottom:1px solid #efefef;padding-left:1px;width:91px;"><u>Median of Two Sorted Arrays</u></div>
<div class="a c" style="top:166px;height:9px;line-height:12.56px;text-align:center;left:155px;width:32px;border-right:1px solid #efefef;border-bottom:1px solid #efefef;">15324</div>
<div class="a c" style="top:166px;height:9px;line-height:12.56px;text-align:center;left:188px;width:34px;border-right:1px solid #efefef;border-bottom:1px solid #efefef;">1920</div>
<div class="a c" style="top:166px;height:9px;line-height:12.56px;text-align:center;left:223px;width:38px;border-right:1px solid #efefef;border-bottom:1px solid #efefef;">17244</div>
<div class="a c" style="top:166px;height:9px;line-height:12.56px;text-align:center;left:262px;width:33px;border-right:1px solid #efefef;border-bottom:1px solid #efefef;">7.98</div>
<div class="a c" style="top:166px;height:9px;line-height:12.56px;text-align:center;left:296px;width:38px;border-right:1px solid #efefef;border-bottom:1px solid #efefef;">Algorithms</div>
<div class="a c" style="top:166px;height:9px;line-height:12.56px;text-align:left;left:335px;width:106px;border-right:1px solid #efefef;border-bottom:1px solid #efefef;padding-left:1px;width:105px;">Array, Binary Search, Divide and Conquer,</div>
<div class="a c" style="top:166px;height:9px;line-height:12.56px;text-align:center;left:442px;width:46px;height:10px;background:#ff0000;color:#6a0000;">Hard</div>
<div class="a c" style="top:166px;height:9px;line-height:12.56px;text-align:center;left:487px;width:28px;height:10px;background:#00ff22;color:#0a3d0a;">TRUE</div>
<div class="a c" style="top:166px;height:9px;line-height:12.56px;text-align:center;left:515px;width:45px;height:10px;background:#ff0000;color:#6a0000;">FALSE</div>
<div class="a c" style="top:166px;height:9px;line-height:12.56px;text-align:center;left:560px;width:44px;height:10px;background:#ff0000;color:#6a0000;">FALSE</div>
<div class="a c" style="top:166px;height:9px;line-height:12.56px;text-align:center;left:605px;width:60px;border-right:1px solid #efefef;border-bottom:1px solid #efefef;">33.78%</div>
<div class="a c" style="top:166px;height:9px;line-height:12.56px;text-align:center;left:666px;width:56px;border-right:1px solid #efefef;border-bottom:1px solid #efefef;">1289703</div>
<div class="a c" style="top:166px;height:9px;line-height:12.56px;text-align:center;left:723px;width:56px;border-right:1px solid #efefef;border-bottom:1px solid #efefef;">3818056</div>
<div class="a rh" style="left:17px;top:176px;width:20px;height:9px;border-right:1px solid #c7c7c7;border-bottom:1px solid #efefef;line-height:11.84px">11</div>
<div class="a c" style="top:176px;height:9px;line-height:12.44px;text-align:center;left:39px;width:22px;border-right:1px solid #efefef;border-bottom:1px solid #efefef;">11</div>
<div class="a c lk" style="top:176px;height:9px;line-height:12.44px;text-align:left;left:62px;width:92px;border-right:1px solid #efefef;border-bottom:1px solid #efefef;padding-left:1px;width:91px;"><u>Container With Most Water</u></div>
<div class="a c" style="top:176px;height:9px;line-height:12.44px;text-align:center;left:155px;width:32px;border-right:1px solid #efefef;border-bottom:1px solid #efefef;">14812</div>
<div class="a c" style="top:176px;height:9px;line-height:12.44px;text-align:center;left:188px;width:34px;border-right:1px solid #efefef;border-bottom:1px solid #efefef;">888</div>
<div class="a c" style="top:176px;height:9px;line-height:12.44px;text-align:center;left:223px;width:38px;border-right:1px solid #efefef;border-bottom:1px solid #efefef;">15700</div>
<div class="a c" style="top:176px;height:9px;line-height:12.44px;text-align:center;left:262px;width:33px;border-right:1px solid #efefef;border-bottom:1px solid #efefef;">16.68</div>
<div class="a c" style="top:176px;height:9px;line-height:12.44px;text-align:center;left:296px;width:38px;border-right:1px solid #efefef;border-bottom:1px solid #efefef;">Algorithms</div>
<div class="a c" style="top:176px;height:9px;line-height:12.44px;text-align:left;left:335px;width:106px;border-right:1px solid #efefef;border-bottom:1px solid #efefef;padding-left:1px;width:105px;">Array, Two Pointers, Greedy,</div>
<div class="a c" style="top:176px;height:9px;line-height:12.44px;text-align:center;left:442px;width:46px;height:10px;background:#ffff00;color:#3a3a00;">Medium</div>
<div class="a c" style="top:176px;height:9px;line-height:12.44px;text-align:center;left:487px;width:28px;height:10px;background:#00ff22;color:#0a3d0a;">TRUE</div>
<div class="a c" style="top:176px;height:9px;line-height:12.44px;text-align:center;left:515px;width:45px;height:10px;background:#00ff22;color:#0a3d0a;">TRUE</div>
<div class="a c" style="top:176px;height:9px;line-height:12.44px;text-align:center;left:560px;width:44px;height:10px;background:#00ff22;color:#0a3d0a;">TRUE</div>
<div class="a c" style="top:176px;height:9px;line-height:12.44px;text-align:center;left:605px;width:60px;border-right:1px solid #efefef;border-bottom:1px solid #efefef;">53.43%</div>
<div class="a c" style="top:176px;height:9px;line-height:12.44px;text-align:center;left:666px;width:56px;border-right:1px solid #efefef;border-bottom:1px solid #efefef;">1338353</div>
<div class="a c" style="top:176px;height:9px;line-height:12.44px;text-align:center;left:723px;width:56px;border-right:1px solid #efefef;border-bottom:1px solid #efefef;">2505053</div>
<div class="a rh" style="left:17px;top:186px;width:20px;height:9px;border-right:1px solid #c7c7c7;border-bottom:1px solid #efefef;line-height:11.72px">12</div>
<div class="a c" style="top:186px;height:9px;line-height:12.32px;text-align:center;left:39px;width:22px;border-right:1px solid #efefef;border-bottom:1px solid #efefef;">121</div>
<div class="a c lk" style="top:186px;height:9px;line-height:12.32px;text-align:left;left:62px;width:92px;border-right:1px solid #efefef;border-bottom:1px solid #efefef;padding-left:1px;width:91px;"><u>Best Time to Buy and Sell Stock</u></div>
<div class="a c" style="top:186px;height:9px;line-height:12.32px;text-align:center;left:155px;width:32px;border-right:1px solid #efefef;border-bottom:1px solid #efefef;">14785</div>
<div class="a c" style="top:186px;height:9px;line-height:12.32px;text-align:center;left:188px;width:34px;border-right:1px solid #efefef;border-bottom:1px solid #efefef;">501</div>
<div class="a c" style="top:186px;height:9px;line-height:12.32px;text-align:center;left:223px;width:38px;border-right:1px solid #efefef;border-bottom:1px solid #efefef;">15286</div>
<div class="a c" style="top:186px;height:9px;line-height:12.32px;text-align:center;left:262px;width:33px;border-right:1px solid #efefef;border-bottom:1px solid #efefef;">29.51</div>
<div class="a c" style="top:186px;height:9px;line-height:12.32px;text-align:center;left:296px;width:38px;border-right:1px solid #efefef;border-bottom:1px solid #efefef;">Algorithms</div>
<div class="a c" style="top:186px;height:9px;line-height:12.32px;text-align:left;left:335px;width:106px;border-right:1px solid #efefef;border-bottom:1px solid #efefef;padding-left:1px;width:105px;">Array, Dynamic Programming,</div>
<div class="a c" style="top:186px;height:9px;line-height:12.32px;text-align:center;left:442px;width:46px;height:10px;background:#00ff22;color:#0b3d0b;">Easy</div>
<div class="a c" style="top:186px;height:9px;line-height:12.32px;text-align:center;left:487px;width:28px;height:10px;background:#00ff22;color:#0a3d0a;">TRUE</div>
<div class="a c" style="top:186px;height:9px;line-height:12.32px;text-align:center;left:515px;width:45px;height:10px;background:#00ff22;color:#0a3d0a;">TRUE</div>
<div class="a c" style="top:186px;height:9px;line-height:12.32px;text-align:center;left:560px;width:44px;height:10px;background:#00ff22;color:#0a3d0a;">TRUE</div>
<div class="a c" style="top:186px;height:9px;line-height:12.32px;text-align:center;left:605px;width:60px;border-right:1px solid #efefef;border-bottom:1px solid #efefef;">53.88%</div>
<div class="a c" style="top:186px;height:9px;line-height:12.32px;text-align:center;left:666px;width:56px;border-right:1px solid #efefef;border-bottom:1px solid #efefef;">1993606</div>
<div class="a c" style="top:186px;height:9px;line-height:12.32px;text-align:center;left:723px;width:56px;border-right:1px solid #efefef;border-bottom:1px solid #efefef;">3700231</div>
<div class="a rh" style="left:17px;top:196px;width:20px;height:9px;border-right:1px solid #c7c7c7;border-bottom:1px solid #efefef;line-height:11.6px">13</div>
<div class="a c" style="top:196px;height:9px;line-height:12.2px;text-align:center;left:39px;width:22px;border-right:1px solid #efefef;border-bottom:1px solid #efefef;">33</div>
<div class="a c lk" style="top:196px;height:9px;line-height:12.2px;text-align:left;left:62px;width:92px;border-right:1px solid #efefef;border-bottom:1px solid #efefef;padding-left:1px;width:91px;"><u>Search in Rotated Sorted Array</u></div>
<div class="a c" style="top:196px;height:9px;line-height:12.2px;text-align:center;left:155px;width:32px;border-right:1px solid #efefef;border-bottom:1px solid #efefef;">12994</div>
<div class="a c" style="top:196px;height:9px;line-height:12.2px;text-align:center;left:188px;width:34px;border-right:1px solid #efefef;border-bottom:1px solid #efefef;">849</div>
<div class="a c" style="top:196px;height:9px;line-height:12.2px;text-align:center;left:223px;width:38px;border-right:1px solid #efefef;border-bottom:1px solid #efefef;">13843</div>
<div class="a c" style="top:196px;height:9px;line-height:12.2px;text-align:center;left:262px;width:33px;border-right:1px solid #efefef;border-bottom:1px solid #efefef;">15.31</div>
<div class="a c" style="top:196px;height:9px;line-height:12.2px;text-align:center;left:296px;width:38px;border-right:1px solid #efefef;border-bottom:1px solid #efefef;">Algorithms</div>
<div class="a c" style="top:196px;height:9px;line-height:12.2px;text-align:left;left:335px;width:106px;border-right:1px solid #efefef;border-bottom:1px solid #efefef;padding-left:1px;width:105px;">Array, Binary Search,</div>
<div class="a c" style="top:196px;height:9px;line-height:12.2px;text-align:center;left:442px;width:46px;height:10px;background:#ffff00;color:#3a3a00;">Medium</div>
<div class="a c" style="top:196px;height:9px;line-height:12.2px;text-align:center;left:487px;width:28px;height:10px;background:#00ff22;color:#0a3d0a;">TRUE</div>
<div class="a c" style="top:196px;height:9px;line-height:12.2px;text-align:center;left:515px;width:45px;height:10px;background:#00ff22;color:#0a3d0a;">TRUE</div>
<div class="a c" style="top:196px;height:9px;line-height:12.2px;text-align:center;left:560px;width:44px;height:10px;background:#ff0000;color:#6a0000;">FALSE</div>
<div class="a c" style="top:196px;height:9px;line-height:12.2px;text-align:center;left:605px;width:60px;border-right:1px solid #efefef;border-bottom:1px solid #efefef;">37.53%</div>
<div class="a c" style="top:196px;height:9px;line-height:12.2px;text-align:center;left:666px;width:56px;border-right:1px solid #efefef;border-bottom:1px solid #efefef;">1373369</div>
<div class="a c" style="top:196px;height:9px;line-height:12.2px;text-align:center;left:723px;width:56px;border-right:1px solid #efefef;border-bottom:1px solid #efefef;">3659100</div>
<div class="a rh" style="left:17px;top:206px;width:20px;height:9px;border-right:1px solid #c7c7c7;border-bottom:1px solid #efefef;line-height:11.48px">14</div>
<div class="a c" style="top:206px;height:9px;line-height:12.08px;text-align:center;left:39px;width:22px;border-right:1px solid #efefef;border-bottom:1px solid #efefef;">200</div>
<div class="a c lk" style="top:206px;height:9px;line-height:12.08px;text-align:left;left:62px;width:92px;border-right:1px solid #efefef;border-bottom:1px solid #efefef;padding-left:1px;width:91px;"><u>Number of Islands</u></div>
<div class="a c" style="top:206px;height:9px;line-height:12.08px;text-align:center;left:155px;width:32px;border-right:1px solid #efefef;border-bottom:1px solid #efefef;">12743</div>
<div class="a c" style="top:206px;height:9px;line-height:12.08px;text-align:center;left:188px;width:34px;border-right:1px solid #efefef;border-bottom:1px solid #efefef;">315</div>
<div class="a c" style="top:206px;height:9px;line-height:12.08px;text-align:center;left:223px;width:38px;border-right:1px solid #efefef;border-bottom:1px solid #efefef;">13058</div>
<div class="a c" style="top:206px;height:9px;line-height:12.08px;text-align:center;left:262px;width:33px;border-right:1px solid #efefef;border-bottom:1px solid #efefef;">40.45</div>
<div class="a c" style="top:206px;height:9px;line-height:12.08px;text-align:center;left:296px;width:38px;border-right:1px solid #efefef;border-bottom:1px solid #efefef;">Algorithms</div>
<div class="a c" style="top:206px;height:9px;line-height:12.08px;text-align:left;left:335px;width:106px;border-right:1px solid #efefef;border-bottom:1px solid #efefef;padding-left:1px;width:105px;">Array, Depth-First Search, Breadth-First Search,</div>
<div class="a c" style="top:206px;height:9px;line-height:12.08px;text-align:center;left:442px;width:46px;height:10px;background:#ffff00;color:#3a3a00;">Medium</div>
<div class="a c" style="top:206px;height:9px;line-height:12.08px;text-align:center;left:487px;width:28px;height:10px;background:#00ff22;color:#0a3d0a;">TRUE</div>
<div class="a c" style="top:206px;height:9px;line-height:12.08px;text-align:center;left:515px;width:45px;height:10px;background:#00ff22;color:#0a3d0a;">TRUE</div>
<div class="a c" style="top:206px;height:9px;line-height:12.08px;text-align:center;left:560px;width:44px;height:10px;background:#ff0000;color:#6a0000;">FALSE</div>
<div class="a c" style="top:206px;height:9px;line-height:12.08px;text-align:center;left:605px;width:60px;border-right:1px solid #efefef;border-bottom:1px solid #efefef;">53.37%</div>
<div class="a c" style="top:206px;height:9px;line-height:12.08px;text-align:center;left:666px;width:56px;border-right:1px solid #efefef;border-bottom:1px solid #efefef;">1460859</div>
<div class="a c" style="top:206px;height:9px;line-height:12.08px;text-align:center;left:723px;width:56px;border-right:1px solid #efefef;border-bottom:1px solid #efefef;">2737042</div>
<div class="a rh" style="left:17px;top:216px;width:20px;height:9px;border-right:1px solid #c7c7c7;border-bottom:1px solid #efefef;line-height:11.360000000000001px">15</div>
<div class="a c" style="top:216px;height:9px;line-height:11.96px;text-align:center;left:39px;width:22px;border-right:1px solid #efefef;border-bottom:1px solid #efefef;">56</div>
<div class="a c lk" style="top:216px;height:9px;line-height:11.96px;text-align:left;left:62px;width:92px;border-right:1px solid #efefef;border-bottom:1px solid #efefef;padding-left:1px;width:91px;"><u>Merge Intervals</u></div>
<div class="a c" style="top:216px;height:9px;line-height:11.96px;text-align:center;left:155px;width:32px;border-right:1px solid #efefef;border-bottom:1px solid #efefef;">12501</div>
<div class="a c" style="top:216px;height:9px;line-height:11.96px;text-align:center;left:188px;width:34px;border-right:1px solid #efefef;border-bottom:1px solid #efefef;">494</div>
<div class="a c" style="top:216px;height:9px;line-height:11.96px;text-align:center;left:223px;width:38px;border-right:1px solid #efefef;border-bottom:1px solid #efefef;">12995</div>
<div class="a c" style="top:216px;height:9px;line-height:11.96px;text-align:center;left:262px;width:33px;border-right:1px solid #efefef;border-bottom:1px solid #efefef;">25.31</div>
<div class="a c" style="top:216px;height:9px;line-height:11.96px;text-align:center;left:296px;width:38px;border-right:1px solid #efefef;border-bottom:1px solid #efefef;">Algorithms</div>
<div class="a c" style="top:216px;height:9px;line-height:11.96px;text-align:left;left:335px;width:106px;border-right:1px solid #efefef;border-bottom:1px solid #efefef;padding-left:1px;width:105px;">Array, Sorting,</div>
<div class="a c" style="top:216px;height:9px;line-height:11.96px;text-align:center;left:442px;width:46px;height:10px;background:#ffff00;color:#3a3a00;">Medium</div>
<div class="a c" style="top:216px;height:9px;line-height:11.96px;text-align:center;left:487px;width:28px;height:10px;background:#00ff22;color:#0a3d0a;">TRUE</div>
<div class="a c" style="top:216px;height:9px;line-height:11.96px;text-align:center;left:515px;width:45px;height:10px;background:#00ff22;color:#0a3d0a;">TRUE</div>
<div class="a c" style="top:216px;height:9px;line-height:11.96px;text-align:center;left:560px;width:44px;height:10px;background:#00ff22;color:#0a3d0a;">TRUE</div>
<div class="a c" style="top:216px;height:9px;line-height:11.96px;text-align:center;left:605px;width:60px;border-right:1px solid #efefef;border-bottom:1px solid #efefef;">44.58%</div>
<div class="a c" style="top:216px;height:9px;line-height:11.96px;text-align:center;left:666px;width:56px;border-right:1px solid #efefef;border-bottom:1px solid #efefef;">1334642</div>
<div class="a c" style="top:216px;height:9px;line-height:11.96px;text-align:center;left:723px;width:56px;border-right:1px solid #efefef;border-bottom:1px solid #efefef;">2993788</div>
<div class="a rh" style="left:17px;top:226px;width:20px;height:9px;border-right:1px solid #c7c7c7;border-bottom:1px solid #efefef;line-height:11.24px">16</div>
<div class="a c" style="top:226px;height:9px;line-height:11.84px;text-align:center;left:39px;width:22px;border-right:1px solid #efefef;border-bottom:1px solid #efefef;">146</div>
<div class="a c lk" style="top:226px;height:9px;line-height:11.84px;text-align:left;left:62px;width:92px;border-right:1px solid #efefef;border-bottom:1px solid #efefef;padding-left:1px;width:91px;"><u>LRU Cache</u></div>
<div class="a c" style="top:226px;height:9px;line-height:11.84px;text-align:center;left:155px;width:32px;border-right:1px solid #efefef;border-bottom:1px solid #efefef;">12364</div>
<div class="a c" style="top:226px;height:9px;line-height:11.84px;text-align:center;left:188px;width:34px;border-right:1px solid #efefef;border-bottom:1px solid #efefef;">484</div>
<div class="a c" style="top:226px;height:9px;line-height:11.84px;text-align:center;left:223px;width:38px;border-right:1px solid #efefef;border-bottom:1px solid #efefef;">12848</div>
<div class="a c" style="top:226px;height:9px;line-height:11.84px;text-align:center;left:262px;width:33px;border-right:1px solid #efefef;border-bottom:1px solid #efefef;">25.55</div>
<div class="a c" style="top:226px;height:9px;line-height:11.84px;text-align:center;left:296px;width:38px;border-right:1px solid #efefef;border-bottom:1px solid #efefef;">Algorithms</div>
<div class="a c" style="top:226px;height:9px;line-height:11.84px;text-align:left;left:335px;width:106px;border-right:1px solid #efefef;border-bottom:1px solid #efefef;padding-left:1px;width:105px;">Hash Table, Linked List, Design, Doubly-Linked List,</div>
<div class="a c" style="top:226px;height:9px;line-height:11.84px;text-align:center;left:442px;width:46px;height:10px;background:#ffff00;color:#3a3a00;">Medium</div>
<div class="a c" style="top:226px;height:9px;line-height:11.84px;text-align:center;left:487px;width:28px;height:10px;background:#00ff22;color:#0a3d0a;">TRUE</div>
<div class="a c" style="top:226px;height:9px;line-height:11.84px;text-align:center;left:515px;width:45px;height:10px;background:#00ff22;color:#0a3d0a;">TRUE</div>
<div class="a c" style="top:226px;height:9px;line-height:11.84px;text-align:center;left:560px;width:44px;height:10px;background:#ff0000;color:#6a0000;">FALSE</div>
<div class="a c" style="top:226px;height:9px;line-height:11.84px;text-align:center;left:605px;width:60px;border-right:1px solid #efefef;border-bottom:1px solid #efefef;">39.47%</div>
<div class="a c" style="top:226px;height:9px;line-height:11.84px;text-align:center;left:666px;width:56px;border-right:1px solid #efefef;border-bottom:1px solid #efefef;">1010228</div>
<div class="a c" style="top:226px;height:9px;line-height:11.84px;text-align:center;left:723px;width:56px;border-right:1px solid #efefef;border-bottom:1px solid #efefef;">2559697</div>
<div class="a rh" style="left:17px;top:236px;width:20px;height:9px;border-right:1px solid #c7c7c7;border-bottom:1px solid #efefef;line-height:11.120000000000001px">17</div>
<div class="a c" style="top:236px;height:9px;line-height:11.72px;text-align:center;left:39px;width:22px;border-right:1px solid #efefef;border-bottom:1px solid #efefef;">560</div>
<div class="a c lk" style="top:236px;height:9px;line-height:11.72px;text-align:left;left:62px;width:92px;border-right:1px solid #efefef;border-bottom:1px solid #efefef;padding-left:1px;width:91px;"><u>Subarray Sum Equals K</u></div>
<div class="a c" style="top:236px;height:9px;line-height:11.72px;text-align:center;left:155px;width:32px;border-right:1px solid #efefef;border-bottom:1px solid #efefef;">12351</div>
<div class="a c" style="top:236px;height:9px;line-height:11.72px;text-align:center;left:188px;width:34px;border-right:1px solid #efefef;border-bottom:1px solid #efefef;">390</div>
<div class="a c" style="top:236px;height:9px;line-height:11.72px;text-align:center;left:223px;width:38px;border-right:1px solid #efefef;border-bottom:1px solid #efefef;">12741</div>
<div class="a c" style="top:236px;height:9px;line-height:11.72px;text-align:center;left:262px;width:33px;border-right:1px solid #efefef;border-bottom:1px solid #efefef;">31.67</div>
<div class="a c" style="top:236px;height:9px;line-height:11.72px;text-align:center;left:296px;width:38px;border-right:1px solid #efefef;border-bottom:1px solid #efefef;">Algorithms</div>
<div class="a c" style="top:236px;height:9px;line-height:11.72px;text-align:left;left:335px;width:106px;border-right:1px solid #efefef;border-bottom:1px solid #efefef;padding-left:1px;width:105px;">Array, Hash Table, Prefix Sum,</div>
<div class="a c" style="top:236px;height:9px;line-height:11.72px;text-align:center;left:442px;width:46px;height:10px;background:#ffff00;color:#3a3a00;">Medium</div>
<div class="a c" style="top:236px;height:9px;line-height:11.72px;text-align:center;left:487px;width:28px;height:10px;background:#00ff22;color:#0a3d0a;">TRUE</div>
<div class="a c" style="top:236px;height:9px;line-height:11.72px;text-align:center;left:515px;width:45px;height:10px;background:#00ff22;color:#0a3d0a;">TRUE</div>
<div class="a c" style="top:236px;height:9px;line-height:11.72px;text-align:center;left:560px;width:44px;height:10px;background:#ff0000;color:#6a0000;">FALSE</div>
<div class="a c" style="top:236px;height:9px;line-height:11.72px;text-align:center;left:605px;width:60px;border-right:1px solid #efefef;border-bottom:1px solid #efefef;">44.15%</div>
<div class="a c" style="top:236px;height:9px;line-height:11.72px;text-align:center;left:666px;width:56px;border-right:1px solid #efefef;border-bottom:1px solid #efefef;">730937</div>
<div class="a c" style="top:236px;height:9px;line-height:11.72px;text-align:center;left:723px;width:56px;border-right:1px solid #efefef;border-bottom:1px solid #efefef;">1655689</div>
<div class="a rh" style="left:17px;top:246px;width:20px;height:9px;border-right:1px solid #c7c7c7;border-bottom:1px solid #efefef;line-height:11.0px">18</div>
<div class="a c" style="top:246px;height:9px;line-height:11.6px;text-align:center;left:39px;width:22px;border-right:1px solid #efefef;border-bottom:1px solid #efefef;">22</div>
<div class="a c lk" style="top:246px;height:9px;line-height:11.6px;text-align:left;left:62px;width:92px;border-right:1px solid #efefef;border-bottom:1px solid #efefef;padding-left:1px;width:91px;"><u>Generate Parentheses</u></div>
<div class="a c" style="top:246px;height:9px;line-height:11.6px;text-align:center;left:155px;width:32px;border-right:1px solid #efefef;border-bottom:1px solid #efefef;">11967</div>
<div class="a c" style="top:246px;height:9px;line-height:11.6px;text-align:center;left:188px;width:34px;border-right:1px solid #efefef;border-bottom:1px solid #efefef;">468</div>
<div class="a c" style="top:246px;height:9px;line-height:11.6px;text-align:center;left:223px;width:38px;border-right:1px solid #efefef;border-bottom:1px solid #efefef;">12435</div>
<div class="a c" style="top:246px;height:9px;line-height:11.6px;text-align:center;left:262px;width:33px;border-right:1px solid #efefef;border-bottom:1px solid #efefef;">25.57</div>
<div class="a c" style="top:246px;height:9px;line-height:11.6px;text-align:center;left:296px;width:38px;border-right:1px solid #efefef;border-bottom:1px solid #efefef;">Algorithms</div>
<div class="a c" style="top:246px;height:9px;line-height:11.6px;text-align:left;left:335px;width:106px;border-right:1px solid #efefef;border-bottom:1px solid #efefef;padding-left:1px;width:105px;">String, Dynamic Programming, Backtracking,</div>
<div class="a c" style="top:246px;height:9px;line-height:11.6px;text-align:center;left:442px;width:46px;height:10px;background:#ffff00;color:#3a3a00;">Medium</div>
<div class="a c" style="top:246px;height:9px;line-height:11.6px;text-align:center;left:487px;width:28px;height:10px;background:#00ff22;color:#0a3d0a;">TRUE</div>
<div class="a c" style="top:246px;height:9px;line-height:11.6px;text-align:center;left:515px;width:45px;height:10px;background:#00ff22;color:#0a3d0a;">TRUE</div>
<div class="a c" style="top:246px;height:9px;line-height:11.6px;text-align:center;left:560px;width:44px;height:10px;background:#ff0000;color:#6a0000;">FALSE</div>
<div class="a c" style="top:246px;height:9px;line-height:11.6px;text-align:center;left:605px;width:60px;border-right:1px solid #efefef;border-bottom:1px solid #efefef;">69.59%</div>
<div class="a c" style="top:246px;height:9px;line-height:11.6px;text-align:center;left:666px;width:56px;border-right:1px solid #efefef;border-bottom:1px solid #efefef;">999971</div>
<div class="a c" style="top:246px;height:9px;line-height:11.6px;text-align:center;left:723px;width:56px;border-right:1px solid #efefef;border-bottom:1px solid #efefef;">1437009</div>
<div class="a rh" style="left:17px;top:256px;width:20px;height:9px;border-right:1px solid #c7c7c7;border-bottom:1px solid #efefef;line-height:10.88px">19</div>
<div class="a c" style="top:256px;height:9px;line-height:11.48px;text-align:center;left:39px;width:22px;border-right:1px solid #efefef;border-bottom:1px solid #efefef;">287</div>
<div class="a c lk" style="top:256px;height:9px;line-height:11.48px;text-align:left;left:62px;width:92px;border-right:1px solid #efefef;border-bottom:1px solid #efefef;padding-left:1px;width:91px;"><u>Find the Duplicate Number</u></div>
<div class="a c" style="top:256px;height:9px;line-height:11.48px;text-align:center;left:155px;width:32px;border-right:1px solid #efefef;border-bottom:1px solid #efefef;">11962</div>
<div class="a c" style="top:256px;height:9px;line-height:11.48px;text-align:center;left:188px;width:34px;border-right:1px solid #efefef;border-bottom:1px solid #efefef;">1319</div>
<div class="a c" style="top:256px;height:9px;line-height:11.48px;text-align:center;left:223px;width:38px;border-right:1px solid #efefef;border-bottom:1px solid #efefef;">13281</div>
<div class="a c" style="top:256px;height:9px;line-height:11.48px;text-align:center;left:262px;width:33px;border-right:1px solid #efefef;border-bottom:1px solid #efefef;">9.07</div>
<div class="a c" style="top:256px;height:9px;line-height:11.48px;text-align:center;left:296px;width:38px;border-right:1px solid #efefef;border-bottom:1px solid #efefef;">Algorithms</div>
<div class="a c" style="top:256px;height:9px;line-height:11.48px;text-align:left;left:335px;width:106px;border-right:1px solid #efefef;border-bottom:1px solid #efefef;padding-left:1px;width:105px;">Array, Two Pointers, Binary Search, Bit Manipulation,</div>
<div class="a c" style="top:256px;height:9px;line-height:11.48px;text-align:center;left:442px;width:46px;height:10px;background:#ffff00;color:#3a3a00;">Medium</div>
<div class="a c" style="top:256px;height:9px;line-height:11.48px;text-align:center;left:487px;width:28px;height:10px;background:#00ff22;color:#0a3d0a;">TRUE</div>
<div class="a c" style="top:256px;height:9px;line-height:11.48px;text-align:center;left:515px;width:45px;height:10px;background:#00ff22;color:#0a3d0a;">TRUE</div>
<div class="a c" style="top:256px;height:9px;line-height:11.48px;text-align:center;left:560px;width:44px;height:10px;background:#ff0000;color:#6a0000;">FALSE</div>
<div class="a c" style="top:256px;height:9px;line-height:11.48px;text-align:center;left:605px;width:60px;border-right:1px solid #efefef;border-bottom:1px solid #efefef;">58.42%</div>
<div class="a c" style="top:256px;height:9px;line-height:11.48px;text-align:center;left:666px;width:56px;border-right:1px solid #efefef;border-bottom:1px solid #efefef;">737826</div>
<div class="a c" style="top:256px;height:9px;line-height:11.48px;text-align:center;left:723px;width:56px;border-right:1px solid #efefef;border-bottom:1px solid #efefef;">1263021</div>
<div class="a rh" style="left:17px;top:266px;width:20px;height:9px;border-right:1px solid #c7c7c7;border-bottom:1px solid #efefef;line-height:10.76px">20</div>
<div class="a c" style="top:266px;height:9px;line-height:11.36px;text-align:center;left:39px;width:22px;border-right:1px solid #efefef;border-bottom:1px solid #efefef;">20</div>
<div class="a c lk" style="top:266px;height:9px;line-height:11.36px;text-align:left;left:62px;width:92px;border-right:1px solid #efefef;border-bottom:1px solid #efefef;padding-left:1px;width:91px;"><u>Valid Parentheses</u></div>
<div class="a c" style="top:266px;height:9px;line-height:11.36px;text-align:center;left:155px;width:32px;border-right:1px solid #efefef;border-bottom:1px solid #efefef;">11632</div>
<div class="a c" style="top:266px;height:9px;line-height:11.36px;text-align:center;left:188px;width:34px;border-right:1px solid #efefef;border-bottom:1px solid #efefef;">515</div>
<div class="a c" style="top:266px;height:9px;line-height:11.36px;text-align:center;left:223px;width:38px;border-right:1px solid #efefef;border-bottom:1px solid #efefef;">12147</div>
<div class="a c" style="top:266px;height:9px;line-height:11.36px;text-align:center;left:262px;width:33px;border-right:1px solid #efefef;border-bottom:1px solid #efefef;">22.59</div>
<div class="a c" style="top:266px;height:9px;line-height:11.36px;text-align:center;left:296px;width:38px;border-right:1px solid #efefef;border-bottom:1px solid #efefef;">Algorithms</div>
<div class="a c" style="top:266px;height:9px;line-height:11.36px;text-align:left;left:335px;width:106px;border-right:1px solid #efefef;border-bottom:1px solid #efefef;padding-left:1px;width:105px;">String, Stack,</div>
<div class="a c" style="top:266px;height:9px;line-height:11.36px;text-align:center;left:442px;width:46px;height:10px;background:#00ff22;color:#0b3d0b;">Easy</div>
<div class="a c" style="top:266px;height:9px;line-height:11.36px;text-align:center;left:487px;width:28px;height:10px;background:#00ff22;color:#0a3d0a;">TRUE</div>
<div class="a c" style="top:266px;height:9px;line-height:11.36px;text-align:center;left:515px;width:45px;height:10px;background:#00ff22;color:#0a3d0a;">TRUE</div>
<div class="a c" style="top:266px;height:9px;line-height:11.36px;text-align:center;left:560px;width:44px;height:10px;background:#00ff22;color:#0a3d0a;">TRUE</div>
<div class="a c" style="top:266px;height:9px;line-height:11.36px;text-align:center;left:605px;width:60px;border-right:1px solid #efefef;border-bottom:1px solid #efefef;">40.61%</div>
<div class="a c" style="top:266px;height:9px;line-height:11.36px;text-align:center;left:666px;width:56px;border-right:1px solid #efefef;border-bottom:1px solid #efefef;">2028587</div>
<div class="a c" style="top:266px;height:9px;line-height:11.36px;text-align:center;left:723px;width:56px;border-right:1px solid #efefef;border-bottom:1px solid #efefef;">4994898</div>
<div class="a rh" style="left:17px;top:276px;width:20px;height:9px;border-right:1px solid #c7c7c7;border-bottom:1px solid #efefef;line-height:10.64px">21</div>
<div class="a c" style="top:276px;height:9px;line-height:11.24px;text-align:center;left:39px;width:22px;border-right:1px solid #efefef;border-bottom:1px solid #efefef;">23</div>
<div class="a c lk" style="top:276px;height:9px;line-height:11.24px;text-align:left;left:62px;width:92px;border-right:1px solid #efefef;border-bottom:1px solid #efefef;padding-left:1px;width:91px;"><u>Merge k Sorted Lists</u></div>
<div class="a c" style="top:276px;height:9px;line-height:11.24px;text-align:center;left:155px;width:32px;border-right:1px solid #efefef;border-bottom:1px solid #efefef;">11428</div>
<div class="a c" style="top:276px;height:9px;line-height:11.24px;text-align:center;left:188px;width:34px;border-right:1px solid #efefef;border-bottom:1px solid #efefef;">453</div>
<div class="a c" style="top:276px;height:9px;line-height:11.24px;text-align:center;left:223px;width:38px;border-right:1px solid #efefef;border-bottom:1px solid #efefef;">11881</div>
<div class="a c" style="top:276px;height:9px;line-height:11.24px;text-align:center;left:262px;width:33px;border-right:1px solid #efefef;border-bottom:1px solid #efefef;">25.23</div>
<div class="a c" style="top:276px;height:9px;line-height:11.24px;text-align:center;left:296px;width:38px;border-right:1px solid #efefef;border-bottom:1px solid #efefef;">Algorithms</div>
<div class="a c" style="top:276px;height:9px;line-height:11.24px;text-align:left;left:335px;width:106px;border-right:1px solid #efefef;border-bottom:1px solid #efefef;padding-left:1px;width:105px;">Linked List, Divide and Conquer, Heap,</div>
<div class="a c" style="top:276px;height:9px;line-height:11.24px;text-align:center;left:442px;width:46px;height:10px;background:#ff0000;color:#6a0000;">Hard</div>
<div class="a c" style="top:276px;height:9px;line-height:11.24px;text-align:center;left:487px;width:28px;height:10px;background:#00ff22;color:#0a3d0a;">TRUE</div>
<div class="a c" style="top:276px;height:9px;line-height:11.24px;text-align:center;left:515px;width:45px;height:10px;background:#00ff22;color:#0a3d0a;">TRUE</div>
<div class="a c" style="top:276px;height:9px;line-height:11.24px;text-align:center;left:560px;width:44px;height:10px;background:#ff0000;color:#6a0000;">FALSE</div>
<div class="a c" style="top:276px;height:9px;line-height:11.24px;text-align:center;left:605px;width:60px;border-right:1px solid #efefef;border-bottom:1px solid #efefef;">46.64%</div>
<div class="a c" style="top:276px;height:9px;line-height:11.24px;text-align:center;left:666px;width:56px;border-right:1px solid #efefef;border-bottom:1px solid #efefef;">1193615</div>
<div class="a c" style="top:276px;height:9px;line-height:11.24px;text-align:center;left:723px;width:56px;border-right:1px solid #efefef;border-bottom:1px solid #efefef;">2559427</div>
<div class="a rh" style="left:17px;top:286px;width:20px;height:9px;border-right:1px solid #c7c7c7;border-bottom:1px solid #efefef;line-height:10.52px">22</div>
<div class="a c" style="top:286px;height:9px;line-height:11.12px;text-align:center;left:39px;width:22px;border-right:1px solid #efefef;border-bottom:1px solid #efefef;">198</div>
<div class="a c lk" style="top:286px;height:9px;line-height:11.12px;text-align:left;left:62px;width:92px;border-right:1px solid #efefef;border-bottom:1px solid #efefef;padding-left:1px;width:91px;"><u>House Robber</u></div>
<div class="a c" style="top:286px;height:9px;line-height:11.12px;text-align:center;left:155px;width:32px;border-right:1px solid #efefef;border-bottom:1px solid #efefef;">11426</div>
<div class="a c" style="top:286px;height:9px;line-height:11.12px;text-align:center;left:188px;width:34px;border-right:1px solid #efefef;border-bottom:1px solid #efefef;">247</div>
<div class="a c" style="top:286px;height:9px;line-height:11.12px;text-align:center;left:223px;width:38px;border-right:1px solid #efefef;border-bottom:1px solid #efefef;">11673</div>
<div class="a c" style="top:286px;height:9px;line-height:11.12px;text-align:center;left:262px;width:33px;border-right:1px solid #efefef;border-bottom:1px solid #efefef;">46.26</div>
<div class="a c" style="top:286px;height:9px;line-height:11.12px;text-align:center;left:296px;width:38px;border-right:1px solid #efefef;border-bottom:1px solid #efefef;">Algorithms</div>
<div class="a c" style="top:286px;height:9px;line-height:11.12px;text-align:left;left:335px;width:106px;border-right:1px solid #efefef;border-bottom:1px solid #efefef;padding-left:1px;width:105px;">Array, Dynamic Programming,</div>
<div class="a c" style="top:286px;height:9px;line-height:11.12px;text-align:center;left:442px;width:46px;height:10px;background:#ffff00;color:#3a3a00;">Medium</div>
<div class="a c" style="top:286px;height:9px;line-height:11.12px;text-align:center;left:487px;width:28px;height:10px;background:#00ff22;color:#0a3d0a;">TRUE</div>
<div class="a c" style="top:286px;height:9px;line-height:11.12px;text-align:center;left:515px;width:45px;height:10px;background:#00ff22;color:#0a3d0a;">TRUE</div>
<div class="a c" style="top:286px;height:9px;line-height:11.12px;text-align:center;left:560px;width:44px;height:10px;background:#ff0000;color:#6a0000;">FALSE</div>
<div class="a c" style="top:286px;height:9px;line-height:11.12px;text-align:center;left:605px;width:60px;border-right:1px solid #efefef;border-bottom:1px solid #efefef;">46.72%</div>
<div class="a c" style="top:286px;height:9px;line-height:11.12px;text-align:center;left:666px;width:56px;border-right:1px solid #efefef;border-bottom:1px solid #efefef;">1053962</div>
<div class="a c" style="top:286px;height:9px;line-height:11.12px;text-align:center;left:723px;width:56px;border-right:1px solid #efefef;border-bottom:1px solid #efefef;">2255739</div>
<div class="a rh" style="left:17px;top:296px;width:20px;height:8px;border-right:1px solid #c7c7c7;border-bottom:1px solid #efefef;line-height:10.4px">23</div>
<div class="a c" style="top:296px;height:8px;line-height:11.0px;text-align:center;left:39px;width:22px;border-right:1px solid #efefef;border-bottom:1px solid #efefef;">238</div>
<div class="a c lk" style="top:296px;height:8px;line-height:11.0px;text-align:left;left:62px;width:92px;border-right:1px solid #efefef;border-bottom:1px solid #efefef;padding-left:1px;width:91px;"><u>Product of Array Except Self</u></div>
<div class="a c" style="top:296px;height:8px;line-height:11.0px;text-align:center;left:155px;width:32px;border-right:1px solid #efefef;border-bottom:1px solid #efefef;">11399</div>
<div class="a c" style="top:296px;height:8px;line-height:11.0px;text-align:center;left:188px;width:34px;border-right:1px solid #efefef;border-bottom:1px solid #efefef;">696</div>
<div class="a c" style="top:296px;height:8px;line-height:11.0px;text-align:center;left:223px;width:38px;border-right:1px solid #efefef;border-bottom:1px solid #efefef;">12095</div>
<div class="a c" style="top:296px;height:8px;line-height:11.0px;text-align:center;left:262px;width:33px;border-right:1px solid #efefef;border-bottom:1px solid #efefef;">16.38</div>
<div class="a c" style="top:296px;height:8px;line-height:11.0px;text-align:center;left:296px;width:38px;border-right:1px solid #efefef;border-bottom:1px solid #efefef;">Algorithms</div>
<div class="a c" style="top:296px;height:8px;line-height:11.0px;text-align:left;left:335px;width:106px;border-right:1px solid #efefef;border-bottom:1px solid #efefef;padding-left:1px;width:105px;">Array, Prefix Sum,</div>
<div class="a c" style="top:296px;height:8px;line-height:11.0px;text-align:center;left:442px;width:46px;height:9px;background:#ffff00;color:#3a3a00;">Medium</div>
<div class="a c" style="top:296px;height:8px;line-height:11.0px;text-align:center;left:487px;width:28px;height:9px;background:#00ff22;color:#0a3d0a;">TRUE</div>
<div class="a c" style="top:296px;height:8px;line-height:11.0px;text-align:center;left:515px;width:45px;height:9px;background:#00ff22;color:#0a3d0a;">TRUE</div>
<div class="a c" style="top:296px;height:8px;line-height:11.0px;text-align:center;left:560px;width:44px;height:9px;background:#00ff22;color:#0a3d0a;">TRUE</div>
<div class="a c" style="top:296px;height:8px;line-height:11.0px;text-align:center;left:605px;width:60px;border-right:1px solid #efefef;border-bottom:1px solid #efefef;">63.68%</div>
<div class="a c" style="top:296px;height:8px;line-height:11.0px;text-align:center;left:666px;width:56px;border-right:1px solid #efefef;border-bottom:1px solid #efefef;">1078876</div>
<div class="a c" style="top:296px;height:8px;line-height:11.0px;text-align:center;left:723px;width:56px;border-right:1px solid #efefef;border-bottom:1px solid #efefef;">1694177</div>
<div class="a rh" style="left:17px;top:305px;width:20px;height:9px;border-right:1px solid #c7c7c7;border-bottom:1px solid #efefef;line-height:12.280000000000001px">24</div>
<div class="a c" style="top:305px;height:9px;line-height:12.88px;text-align:center;left:39px;width:22px;border-right:1px solid #efefef;border-bottom:1px solid #efefef;">21</div>
<div class="a c lk" style="top:305px;height:9px;line-height:12.88px;text-align:left;left:62px;width:92px;border-right:1px solid #efefef;border-bottom:1px solid #efefef;padding-left:1px;width:91px;"><u>Merge Two Sorted Lists</u></div>
<div class="a c" style="top:305px;height:9px;line-height:12.88px;text-align:center;left:155px;width:32px;border-right:1px solid #efefef;border-bottom:1px solid #efefef;">11318</div>
<div class="a c" style="top:305px;height:9px;line-height:12.88px;text-align:center;left:188px;width:34px;border-right:1px solid #efefef;border-bottom:1px solid #efefef;">1020</div>
<div class="a c" style="top:305px;height:9px;line-height:12.88px;text-align:center;left:223px;width:38px;border-right:1px solid #efefef;border-bottom:1px solid #efefef;">12338</div>
<div class="a c" style="top:305px;height:9px;line-height:12.88px;text-align:center;left:262px;width:33px;border-right:1px solid #efefef;border-bottom:1px solid #efefef;">11.1</div>
<div class="a c" style="top:305px;height:9px;line-height:12.88px;text-align:center;left:296px;width:38px;border-right:1px solid #efefef;border-bottom:1px solid #efefef;">Algorithms</div>
<div class="a c" style="top:305px;height:9px;line-height:12.88px;text-align:left;left:335px;width:106px;border-right:1px solid #efefef;border-bottom:1px solid #efefef;padding-left:1px;width:105px;">Linked List, Recursion,</div>
<div class="a c" style="top:305px;height:9px;line-height:12.88px;text-align:center;left:442px;width:46px;height:10px;background:#00ff22;color:#0b3d0b;">Easy</div>
<div class="a c" style="top:305px;height:9px;line-height:12.88px;text-align:center;left:487px;width:28px;height:10px;background:#00ff22;color:#0a3d0a;">TRUE</div>
<div class="a c" style="top:305px;height:9px;line-height:12.88px;text-align:center;left:515px;width:45px;height:10px;background:#00ff22;color:#0a3d0a;">TRUE</div>
<div class="a c" style="top:305px;height:9px;line-height:12.88px;text-align:center;left:560px;width:44px;height:10px;background:#00ff22;color:#0a3d0a;">TRUE</div>
<div class="a c" style="top:305px;height:9px;line-height:12.88px;text-align:center;left:605px;width:60px;border-right:1px solid #efefef;border-bottom:1px solid #efefef;">59.89%</div>
<div class="a c" style="top:305px;height:9px;line-height:12.88px;text-align:center;left:666px;width:56px;border-right:1px solid #efefef;border-bottom:1px solid #efefef;">2037449</div>
<div class="a c" style="top:305px;height:9px;line-height:12.88px;text-align:center;left:723px;width:56px;border-right:1px solid #efefef;border-bottom:1px solid #efefef;">3402049</div>
<div class="a rh" style="left:17px;top:315px;width:20px;height:9px;border-right:1px solid #c7c7c7;border-bottom:1px solid #efefef;line-height:12.16px">25</div>
<div class="a c" style="top:315px;height:9px;line-height:12.76px;text-align:center;left:39px;width:22px;border-right:1px solid #efefef;border-bottom:1px solid #efefef;">300</div>
<div class="a c lk" style="top:315px;height:9px;line-height:12.76px;text-align:left;left:62px;width:92px;border-right:1px solid #efefef;border-bottom:1px solid #efefef;padding-left:1px;width:91px;"><u>Longest Increasing Subsequence</u></div>
<div class="a c" style="top:315px;height:9px;line-height:12.76px;text-align:center;left:155px;width:32px;border-right:1px solid #efefef;border-bottom:1px solid #efefef;">11022</div>
<div class="a c" style="top:315px;height:9px;line-height:12.76px;text-align:center;left:188px;width:34px;border-right:1px solid #efefef;border-bottom:1px solid #efefef;">217</div>
<div class="a c" style="top:315px;height:9px;line-height:12.76px;text-align:center;left:223px;width:38px;border-right:1px solid #efefef;border-bottom:1px solid #efefef;">11239</div>
<div class="a c" style="top:315px;height:9px;line-height:12.76px;text-align:center;left:262px;width:33px;border-right:1px solid #efefef;border-bottom:1px solid #efefef;">50.79</div>
<div class="a c" style="top:315px;height:9px;line-height:12.76px;text-align:center;left:296px;width:38px;border-right:1px solid #efefef;border-bottom:1px solid #efefef;">Algorithms</div>
<div class="a c" style="top:315px;height:9px;line-height:12.76px;text-align:left;left:335px;width:106px;border-right:1px solid #efefef;border-bottom:1px solid #efefef;padding-left:1px;width:105px;">Array, Binary Search, Dynamic Programming,</div>
<div class="a c" style="top:315px;height:9px;line-height:12.76px;text-align:center;left:442px;width:46px;height:10px;background:#ffff00;color:#3a3a00;">Medium</div>
<div class="a c" style="top:315px;height:9px;line-height:12.76px;text-align:center;left:487px;width:28px;height:10px;background:#00ff22;color:#0a3d0a;">TRUE</div>
<div class="a c" style="top:315px;height:9px;line-height:12.76px;text-align:center;left:515px;width:45px;height:10px;background:#00ff22;color:#0a3d0a;">TRUE</div>
<div class="a c" style="top:315px;height:9px;line-height:12.76px;text-align:center;left:560px;width:44px;height:10px;background:#ff0000;color:#6a0000;">FALSE</div>
<div class="a c" style="top:315px;height:9px;line-height:12.76px;text-align:center;left:605px;width:60px;border-right:1px solid #efefef;border-bottom:1px solid #efefef;">48.77%</div>
<div class="a c" style="top:315px;height:9px;line-height:12.76px;text-align:center;left:666px;width:56px;border-right:1px solid #efefef;border-bottom:1px solid #efefef;">796637</div>
<div class="a c" style="top:315px;height:9px;line-height:12.76px;text-align:center;left:723px;width:56px;border-right:1px solid #efefef;border-bottom:1px solid #efefef;">1633336</div>
<div class="a rh" style="left:17px;top:325px;width:20px;height:9px;border-right:1px solid #c7c7c7;border-bottom:1px solid #efefef;line-height:12.040000000000001px">26</div>
<div class="a c" style="top:325px;height:9px;line-height:12.64px;text-align:center;left:39px;width:22px;border-right:1px solid #efefef;border-bottom:1px solid #efefef;">206</div>
<div class="a c lk" style="top:325px;height:9px;line-height:12.64px;text-align:left;left:62px;width:92px;border-right:1px solid #efefef;border-bottom:1px solid #efefef;padding-left:1px;width:91px;"><u>Reverse Linked List</u></div>
<div class="a c" style="top:325px;height:9px;line-height:12.64px;text-align:center;left:155px;width:32px;border-right:1px solid #efefef;border-bottom:1px solid #efefef;">10928</div>
<div class="a c" style="top:325px;height:9px;line-height:12.64px;text-align:center;left:188px;width:34px;border-right:1px solid #efefef;border-bottom:1px solid #efefef;">185</div>
<div class="a c" style="top:325px;height:9px;line-height:12.64px;text-align:center;left:223px;width:38px;border-right:1px solid #efefef;border-bottom:1px solid #efefef;">11113</div>
<div class="a c" style="top:325px;height:9px;line-height:12.64px;text-align:center;left:262px;width:33px;border-right:1px solid #efefef;border-bottom:1px solid #efefef;">59.07</div>
<div class="a c" style="top:325px;height:9px;line-height:12.64px;text-align:center;left:296px;width:38px;border-right:1px solid #efefef;border-bottom:1px solid #efefef;">Algorithms</div>
<div class="a c" style="top:325px;height:9px;line-height:12.64px;text-align:left;left:335px;width:106px;border-right:1px solid #efefef;border-bottom:1px solid #efefef;padding-left:1px;width:105px;">Linked List, Recursion,</div>
<div class="a c" style="top:325px;height:9px;line-height:12.64px;text-align:center;left:442px;width:46px;height:10px;background:#00ff22;color:#0b3d0b;">Easy</div>
<div class="a c" style="top:325px;height:9px;line-height:12.64px;text-align:center;left:487px;width:28px;height:10px;background:#00ff22;color:#0a3d0a;">TRUE</div>
<div class="a c" style="top:325px;height:9px;line-height:12.64px;text-align:center;left:515px;width:45px;height:10px;background:#00ff22;color:#0a3d0a;">TRUE</div>
<div class="a c" style="top:325px;height:9px;line-height:12.64px;text-align:center;left:560px;width:44px;height:10px;background:#ff0000;color:#6a0000;">FALSE</div>
<div class="a c" style="top:325px;height:9px;line-height:12.64px;text-align:center;left:605px;width:60px;border-right:1px solid #efefef;border-bottom:1px solid #efefef;">69.74%</div>
<div class="a c" style="top:325px;height:9px;line-height:12.64px;text-align:center;left:666px;width:56px;border-right:1px solid #efefef;border-bottom:1px solid #efefef;">1974600</div>
<div class="a c" style="top:325px;height:9px;line-height:12.64px;text-align:center;left:723px;width:56px;border-right:1px solid #efefef;border-bottom:1px solid #efefef;">2831343</div>
<div class="a rh" style="left:17px;top:335px;width:20px;height:9px;border-right:1px solid #c7c7c7;border-bottom:1px solid #efefef;line-height:11.92px">27</div>
<div class="a c" style="top:335px;height:9px;line-height:12.52px;text-align:center;left:39px;width:22px;border-right:1px solid #efefef;border-bottom:1px solid #efefef;">70</div>
<div class="a c lk" style="top:335px;height:9px;line-height:12.52px;text-align:left;left:62px;width:92px;border-right:1px solid #efefef;border-bottom:1px solid #efefef;padding-left:1px;width:91px;"><u>Climbing Stairs</u></div>
<div class="a c" style="top:335px;height:9px;line-height:12.52px;text-align:center;left:155px;width:32px;border-right:1px solid #efefef;border-bottom:1px solid #efefef;">10774</div>
<div class="a c" style="top:335px;height:9px;line-height:12.52px;text-align:center;left:188px;width:34px;border-right:1px solid #efefef;border-bottom:1px solid #efefef;">330</div>
<div class="a c" style="top:335px;height:9px;line-height:12.52px;text-align:center;left:223px;width:38px;border-right:1px solid #efefef;border-bottom:1px solid #efefef;">11104</div>
<div class="a c" style="top:335px;height:9px;line-height:12.52px;text-align:center;left:262px;width:33px;border-right:1px solid #efefef;border-bottom:1px solid #efefef;">32.65</div>
<div class="a c" style="top:335px;height:9px;line-height:12.52px;text-align:center;left:296px;width:38px;border-right:1px solid #efefef;border-bottom:1px solid #efefef;">Algorithms</div>
<div class="a c" style="top:335px;height:9px;line-height:12.52px;text-align:left;left:335px;width:106px;border-right:1px solid #efefef;border-bottom:1px solid #efefef;padding-left:1px;width:105px;">Math, Dynamic Programming, Memoization,</div>
<div class="a c" style="top:335px;height:9px;line-height:12.52px;text-align:center;left:442px;width:46px;height:10px;background:#00ff22;color:#0b3d0b;">Easy</div>
<div class="a c" style="top:335px;height:9px;line-height:12.52px;text-align:center;left:487px;width:28px;height:10px;background:#00ff22;color:#0a3d0a;">TRUE</div>
<div class="a c" style="top:335px;height:9px;line-height:12.52px;text-align:center;left:515px;width:45px;height:10px;background:#00ff22;color:#0a3d0a;">TRUE</div>
<div class="a c" style="top:335px;height:9px;line-height:12.52px;text-align:center;left:560px;width:44px;height:10px;background:#ff0000;color:#6a0000;">FALSE</div>
<div class="a c" style="top:335px;height:9px;line-height:12.52px;text-align:center;left:605px;width:60px;border-right:1px solid #efefef;border-bottom:1px solid #efefef;">50.81%</div>
<div class="a c" style="top:335px;height:9px;line-height:12.52px;text-align:center;left:666px;width:56px;border-right:1px solid #efefef;border-bottom:1px solid #efefef;">1440764</div>
<div class="a c" style="top:335px;height:9px;line-height:12.52px;text-align:center;left:723px;width:56px;border-right:1px solid #efefef;border-bottom:1px solid #efefef;">2835479</div>
<div class="a rh" style="left:17px;top:345px;width:20px;height:9px;border-right:1px solid #c7c7c7;border-bottom:1px solid #efefef;line-height:11.8px">28</div>
<div class="a c" style="top:345px;height:9px;line-height:12.4px;text-align:center;left:39px;width:22px;border-right:1px solid #efefef;border-bottom:1px solid #efefef;">152</div>
<div class="a c lk" style="top:345px;height:9px;line-height:12.4px;text-align:left;left:62px;width:92px;border-right:1px solid #efefef;border-bottom:1px solid #efefef;padding-left:1px;width:91px;"><u>Maximum Product Subarray</u></div>
<div class="a c" style="top:345px;height:9px;line-height:12.4px;text-align:center;left:155px;width:32px;border-right:1px solid #efefef;border-bottom:1px solid #efefef;">10701</div>
<div class="a c" style="top:345px;height:9px;line-height:12.4px;text-align:center;left:188px;width:34px;border-right:1px solid #efefef;border-bottom:1px solid #efefef;">333</div>
<div class="a c" style="top:345px;height:9px;line-height:12.4px;text-align:center;left:223px;width:38px;border-right:1px solid #efefef;border-bottom:1px solid #efefef;">11034</div>
<div class="a c" style="top:345px;height:9px;line-height:12.4px;text-align:center;left:262px;width:33px;border-right:1px solid #efefef;border-bottom:1px solid #efefef;">32.14</div>
<div class="a c" style="top:345px;height:9px;line-height:12.4px;text-align:center;left:296px;width:38px;border-right:1px solid #efefef;border-bottom:1px solid #efefef;">Algorithms</div>
<div class="a c" style="top:345px;height:9px;line-height:12.4px;text-align:left;left:335px;width:106px;border-right:1px solid #efefef;border-bottom:1px solid #efefef;padding-left:1px;width:105px;">Array, Dynamic Programming,</div>
<div class="a c" style="top:345px;height:9px;line-height:12.4px;text-align:center;left:442px;width:46px;height:10px;background:#ffff00;color:#3a3a00;">Medium</div>
<div class="a c" style="top:345px;height:9px;line-height:12.4px;text-align:center;left:487px;width:28px;height:10px;background:#00ff22;color:#0a3d0a;">TRUE</div>
<div class="a c" style="top:345px;height:9px;line-height:12.4px;text-align:center;left:515px;width:45px;height:10px;background:#00ff22;color:#0a3d0a;">TRUE</div>
<div class="a c" style="top:345px;height:9px;line-height:12.4px;text-align:center;left:560px;width:44px;height:10px;background:#ff0000;color:#6a0000;">FALSE</div>
<div class="a c" style="top:345px;height:9px;line-height:12.4px;text-align:center;left:605px;width:60px;border-right:1px solid #efefef;border-bottom:1px solid #efefef;">34.45%</div>
<div class="a c" style="top:345px;height:9px;line-height:12.4px;text-align:center;left:666px;width:56px;border-right:1px solid #efefef;border-bottom:1px solid #efefef;">693696</div>
<div class="a c" style="top:345px;height:9px;line-height:12.4px;text-align:center;left:723px;width:56px;border-right:1px solid #efefef;border-bottom:1px solid #efefef;">2013825</div>
<div class="a rh" style="left:17px;top:355px;width:20px;height:9px;border-right:1px solid #c7c7c7;border-bottom:1px solid #efefef;line-height:11.68px">29</div>
<div class="a c" style="top:355px;height:9px;line-height:12.28px;text-align:center;left:39px;width:22px;border-right:1px solid #efefef;border-bottom:1px solid #efefef;">322</div>
<div class="a c lk" style="top:355px;height:9px;line-height:12.28px;text-align:left;left:62px;width:92px;border-right:1px solid #efefef;border-bottom:1px solid #efefef;padding-left:1px;width:91px;"><u>Coin Change</u></div>
<div class="a c" style="top:355px;height:9px;line-height:12.28px;text-align:center;left:155px;width:32px;border-right:1px solid #efefef;border-bottom:1px solid #efefef;">10355</div>
<div class="a c" style="top:355px;height:9px;line-height:12.28px;text-align:center;left:188px;width:34px;border-right:1px solid #efefef;border-bottom:1px solid #efefef;">252</div>
<div class="a c" style="top:355px;height:9px;line-height:12.28px;text-align:center;left:223px;width:38px;border-right:1px solid #efefef;border-bottom:1px solid #efefef;">10607</div>
<div class="a c" style="top:355px;height:9px;line-height:12.28px;text-align:center;left:262px;width:33px;border-right:1px solid #efefef;border-bottom:1px solid #efefef;">41.09</div>
<div class="a c" style="top:355px;height:9px;line-height:12.28px;text-align:center;left:296px;width:38px;border-right:1px solid #efefef;border-bottom:1px solid #efefef;">Algorithms</div>
<div class="a c" style="top:355px;height:9px;line-height:12.28px;text-align:left;left:335px;width:106px;border-right:1px solid #efefef;border-bottom:1px solid #efefef;padding-left:1px;width:105px;">Array, Dynamic Programming, Breadth-First Search,</div>
<div class="a c" style="top:355px;height:9px;line-height:12.28px;text-align:center;left:442px;width:46px;height:10px;background:#ffff00;color:#3a3a00;">Medium</div>
<div class="a c" style="top:355px;height:9px;line-height:12.28px;text-align:center;left:487px;width:28px;height:10px;background:#00ff22;color:#0a3d0a;">TRUE</div>
<div class="a c" style="top:355px;height:9px;line-height:12.28px;text-align:center;left:515px;width:45px;height:10px;background:#00ff22;color:#0a3d0a;">TRUE</div>
<div class="a c" style="top:355px;height:9px;line-height:12.28px;text-align:center;left:560px;width:44px;height:10px;background:#00ff22;color:#0a3d0a;">TRUE</div>
<div class="a c" style="top:355px;height:9px;line-height:12.28px;text-align:center;left:605px;width:60px;border-right:1px solid #efefef;border-bottom:1px solid #efefef;">39.84%</div>
<div class="a c" style="top:355px;height:9px;line-height:12.28px;text-align:center;left:666px;width:56px;border-right:1px solid #efefef;border-bottom:1px solid #efefef;">913968</div>
<div class="a c" style="top:355px;height:9px;line-height:12.28px;text-align:center;left:723px;width:56px;border-right:1px solid #efefef;border-bottom:1px solid #efefef;">2294247</div>
<div class="a rh" style="left:17px;top:365px;width:20px;height:9px;border-right:1px solid #c7c7c7;border-bottom:1px solid #efefef;line-height:11.56px">30</div>
<div class="a c" style="top:365px;height:9px;line-height:12.16px;text-align:center;left:39px;width:22px;border-right:1px solid #efefef;border-bottom:1px solid #efefef;">55</div>
<div class="a c lk" style="top:365px;height:9px;line-height:12.16px;text-align:left;left:62px;width:92px;border-right:1px solid #efefef;border-bottom:1px solid #efefef;padding-left:1px;width:91px;"><u>Jump Game</u></div>
<div class="a c" style="top:365px;height:9px;line-height:12.16px;text-align:center;left:155px;width:32px;border-right:1px solid #efefef;border-bottom:1px solid #efefef;">10156</div>
<div class="a c" style="top:365px;height:9px;line-height:12.16px;text-align:center;left:188px;width:34px;border-right:1px solid #efefef;border-bottom:1px solid #efefef;">587</div>
<div class="a c" style="top:365px;height:9px;line-height:12.16px;text-align:center;left:223px;width:38px;border-right:1px solid #efefef;border-bottom:1px solid #efefef;">10743</div>
<div class="a c" style="top:365px;height:9px;line-height:12.16px;text-align:center;left:262px;width:33px;border-right:1px solid #efefef;border-bottom:1px solid #efefef;">17.3</div>
<div class="a c" style="top:365px;height:9px;line-height:12.16px;text-align:center;left:296px;width:38px;border-right:1px solid #efefef;border-bottom:1px solid #efefef;">Algorithms</div>
<div class="a c" style="top:365px;height:9px;line-height:12.16px;text-align:left;left:335px;width:106px;border-right:1px solid #efefef;border-bottom:1px solid #efefef;padding-left:1px;width:105px;">Array, Dynamic Programming, Greedy,</div>
<div class="a c" style="top:365px;height:9px;line-height:12.16px;text-align:center;left:442px;width:46px;height:10px;background:#ffff00;color:#3a3a00;">Medium</div>
<div class="a c" style="top:365px;height:9px;line-height:12.16px;text-align:center;left:487px;width:28px;height:10px;background:#00ff22;color:#0a3d0a;">TRUE</div>
<div class="a c" style="top:365px;height:9px;line-height:12.16px;text-align:center;left:515px;width:45px;height:10px;background:#00ff22;color:#0a3d0a;">TRUE</div>
<div class="a c" style="top:365px;height:9px;line-height:12.16px;text-align:center;left:560px;width:44px;height:10px;background:#ff0000;color:#6a0000;">FALSE</div>
<div class="a c" style="top:365px;height:9px;line-height:12.16px;text-align:center;left:605px;width:60px;border-right:1px solid #efefef;border-bottom:1px solid #efefef;">37.56%</div>
<div class="a c" style="top:365px;height:9px;line-height:12.16px;text-align:center;left:666px;width:56px;border-right:1px solid #efefef;border-bottom:1px solid #efefef;">933918</div>
<div class="a c" style="top:365px;height:9px;line-height:12.16px;text-align:center;left:723px;width:56px;border-right:1px solid #efefef;border-bottom:1px solid #efefef;">2486475</div>
<div class="a rh" style="left:17px;top:375px;width:20px;height:9px;border-right:1px solid #c7c7c7;border-bottom:1px solid #efefef;line-height:11.44px">31</div>
<div class="a c" style="top:375px;height:9px;line-height:12.04px;text-align:center;left:39px;width:22px;border-right:1px solid #efefef;border-bottom:1px solid #efefef;">39</div>
<div class="a c lk" style="top:375px;height:9px;line-height:12.04px;text-align:left;left:62px;width:92px;border-right:1px solid #efefef;border-bottom:1px solid #efefef;padding-left:1px;width:91px;"><u>Combination Sum</u></div>
<div class="a c" style="top:375px;height:9px;line-height:12.04px;text-align:center;left:155px;width:32px;border-right:1px solid #efefef;border-bottom:1px solid #efefef;">10062</div>
<div class="a c" style="top:375px;height:9px;line-height:12.04px;text-align:center;left:188px;width:34px;border-right:1px solid #efefef;border-bottom:1px solid #efefef;">219</div>
<div class="a c" style="top:375px;height:9px;line-height:12.04px;text-align:center;left:223px;width:38px;border-right:1px solid #efefef;border-bottom:1px solid #efefef;">10281</div>
<div class="a c" style="top:375px;height:9px;line-height:12.04px;text-align:center;left:262px;width:33px;border-right:1px solid #efefef;border-bottom:1px solid #efefef;">45.95</div>
<div class="a c" style="top:375px;height:9px;line-height:12.04px;text-align:center;left:296px;width:38px;border-right:1px solid #efefef;border-bottom:1px solid #efefef;">Algorithms</div>
<div class="a c" style="top:375px;height:9px;line-height:12.04px;text-align:left;left:335px;width:106px;border-right:1px solid #efefef;border-bottom:1px solid #efefef;padding-left:1px;width:105px;">Array, Backtracking,</div>
<div class="a c" style="top:375px;height:9px;line-height:12.04px;text-align:center;left:442px;width:46px;height:10px;background:#ffff00;color:#3a3a00;">Medium</div>
<div class="a c" style="top:375px;height:9px;line-height:12.04px;text-align:center;left:487px;width:28px;height:10px;background:#00ff22;color:#0a3d0a;">TRUE</div>
<div class="a c" style="top:375px;height:9px;line-height:12.04px;text-align:center;left:515px;width:45px;height:10px;background:#00ff22;color:#0a3d0a;">TRUE</div>
<div class="a c" style="top:375px;height:9px;line-height:12.04px;text-align:center;left:560px;width:44px;height:10px;background:#ff0000;color:#6a0000;">FALSE</div>
<div class="a c" style="top:375px;height:9px;line-height:12.04px;text-align:center;left:605px;width:60px;border-right:1px solid #efefef;border-bottom:1px solid #efefef;">64.86%</div>
<div class="a c" style="top:375px;height:9px;line-height:12.04px;text-align:center;left:666px;width:56px;border-right:1px solid #efefef;border-bottom:1px solid #efefef;">1020786</div>
<div class="a c" style="top:375px;height:9px;line-height:12.04px;text-align:center;left:723px;width:56px;border-right:1px solid #efefef;border-bottom:1px solid #efefef;">1573749</div>
<div class="a rh" style="left:17px;top:385px;width:20px;height:9px;border-right:1px solid #c7c7c7;border-bottom:1px solid #efefef;line-height:11.32px">32</div>
<div class="a c" style="top:385px;height:9px;line-height:11.92px;text-align:center;left:39px;width:22px;border-right:1px solid #efefef;border-bottom:1px solid #efefef;">139</div>
<div class="a c lk" style="top:385px;height:9px;line-height:11.92px;text-align:left;left:62px;width:92px;border-right:1px solid #efefef;border-bottom:1px solid #efefef;padding-left:1px;width:91px;"><u>Word Break</u></div>
<div class="a c" style="top:385px;height:9px;line-height:11.92px;text-align:center;left:155px;width:32px;border-right:1px solid #efefef;border-bottom:1px solid #efefef;">9802</div>
<div class="a c" style="top:385px;height:9px;line-height:11.92px;text-align:center;left:188px;width:34px;border-right:1px solid #efefef;border-bottom:1px solid #efefef;">439</div>
<div class="a c" style="top:385px;height:9px;line-height:11.92px;text-align:center;left:223px;width:38px;border-right:1px solid #efefef;border-bottom:1px solid #efefef;">10241</div>
<div class="a c" style="top:385px;height:9px;line-height:11.92px;text-align:center;left:262px;width:33px;border-right:1px solid #efefef;border-bottom:1px solid #efefef;">22.33</div>
<div class="a c" style="top:385px;height:9px;line-height:11.92px;text-align:center;left:296px;width:38px;border-right:1px solid #efefef;border-bottom:1px solid #efefef;">Algorithms</div>
<div class="a c" style="top:385px;height:9px;line-height:11.92px;text-align:left;left:335px;width:106px;border-right:1px solid #efefef;border-bottom:1px solid #efefef;padding-left:1px;width:105px;">Hash Table, String, Dynamic Programming,</div>
<div class="a c" style="top:385px;height:9px;line-height:11.92px;text-align:center;left:442px;width:46px;height:10px;background:#ffff00;color:#3a3a00;">Medium</div>
<div class="a c" style="top:385px;height:9px;line-height:11.92px;text-align:center;left:487px;width:28px;height:10px;background:#00ff22;color:#0a3d0a;">TRUE</div>
<div class="a c" style="top:385px;height:9px;line-height:11.92px;text-align:center;left:515px;width:45px;height:10px;background:#00ff22;color:#0a3d0a;">TRUE</div>
<div class="a c" style="top:385px;height:9px;line-height:11.92px;text-align:center;left:560px;width:44px;height:10px;background:#00ff22;color:#0a3d0a;">TRUE</div>
<div class="a c" style="top:385px;height:9px;line-height:11.92px;text-align:center;left:605px;width:60px;border-right:1px solid #efefef;border-bottom:1px solid #efefef;">44.26%</div>
<div class="a c" style="top:385px;height:9px;line-height:11.92px;text-align:center;left:666px;width:56px;border-right:1px solid #efefef;border-bottom:1px solid #efefef;">1019272</div>
<div class="a c" style="top:385px;height:9px;line-height:11.92px;text-align:center;left:723px;width:56px;border-right:1px solid #efefef;border-bottom:1px solid #efefef;">2302751</div>
<div class="a" style="left:779px;top:64px;width:11px;height:335px;background:#fbfbfb;border-left:1px solid #e6e6e6;border-right:1px solid #ededed"></div>
<div class="a" style="left:786px;top:64px;width:1px;height:335px;background:#f1f1f1"></div>
<div class="a" style="left:792px;top:97px;width:3.5px;height:12px;background:#e3e4e6;border-radius:2px"></div>
<div class="a" style="left:3px;top:64px;width:794px;height:1px;background:#e3e3e3"></div>
<svg class="a" style="left:792.0px;top:382.75px" width="3" height="3" viewBox="0 0 3 3"><path d="M0 2.5h3L1.5 0z" fill="#9aa0a6"/></svg>
<svg class="a" style="left:792.0px;top:389.75px" width="3" height="3" viewBox="0 0 3 3"><path d="M0 0h3L1.5 2.5z" fill="#9aa0a6"/></svg>
<svg class="a" style="left:778.5px;top:396.45px" width="3" height="3" viewBox="0 0 3 3"><path d="M2.5 0v3L0 1.5z" fill="#9aa0a6"/></svg>
<svg class="a" style="left:785.5px;top:396.45px" width="3" height="3" viewBox="0 0 3 3"><path d="M0 0v3l2.5-1.5z" fill="#9aa0a6"/></svg>
<div class="a" style="left:3px;top:400px;width:743px;height:19px;background:#f1f3f4"></div>
<div class="a" style="left:746px;top:400px;width:54px;height:19px;background:#fff;box-shadow:-1px 0 1px rgba(0,0,0,.08)"></div>
<svg class="a" style="left:27px;top:406.9px" width="5.2" height="5.2" viewBox="0 0 10 10"><path d="M5 0v10M0 5h10" stroke="#5f6368" stroke-width="1.6"/></svg>
<svg class="a" style="left:41.2px;top:406.8px" width="6.5" height="6" viewBox="0 0 13 12"><rect width="13" height="12" rx="1" fill="#7d8185"/><path d="M2 3.5h9M2 6h9M2 8.5h9" stroke="#b9bcbf" stroke-width="0.9"/></svg>
<div class="a" style="left:57.7px;top:400px;width:40px;height:19px;background:#fff;box-shadow:0 1px 1px rgba(0,0,0,.12)"></div>
<div class="a" style="left:66.7px;top:405.5px;font-size:6.9px;line-height:9px;color:#137333">Main</div>
<svg class="a" style="left:86.4px;top:409px" width="3.2" height="2" viewBox="0 0 4 2.5"><path d="M0 0h4L2 2.5z" fill="#5f6368"/></svg>
<svg class="a" style="left:752.9px;top:405.9px" width="8.5" height="9.5" viewBox="0 0 17 19"><path d="M0 0h17v15h-6l-2.5 3.5L6 15H0z" fill="#0f9d58"/><path d="M8.5 4v7M5 7.5h7" stroke="#fff" stroke-width="2.2"/></svg>
<div class="a" style="left:768px;top:407px;font-size:5.7px;line-height:8px;color:#1e8e3e">Explore</div>
</body></html>
